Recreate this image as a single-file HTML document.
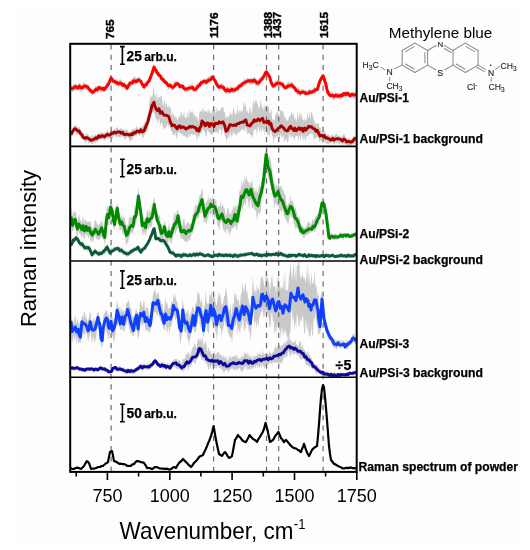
<!DOCTYPE html>
<html><head><meta charset="utf-8"><style>
html,body{margin:0;padding:0;background:#fff;}
svg{display:block;}
text{font-family:'Liberation Sans',Arial,sans-serif;}
</style></head><body>
<svg width="530" height="550" viewBox="0 0 530 550">
<rect x="0" y="0" width="530" height="550" fill="#fff"/><rect x="14" y="6" width="507.5" height="537.5" fill="#fdfdfd"/>
<g><path d="M70.5,84.1 71.3,84.5 72.1,86.5 72.9,84.6 73.7,83.8 74.5,84.9 75.3,83.5 76.1,83.6 76.9,84.3 77.7,86.1 78.5,83.8 79.3,82.9 80.1,83.0 80.9,83.9 81.7,85.4 82.5,83.9 83.3,82.6 84.1,82.1 84.9,83.8 85.7,84.2 86.5,83.2 87.3,84.9 88.1,84.8 88.9,84.5 89.7,87.1 90.5,88.2 91.3,88.5 92.1,88.7 92.9,90.2 93.7,89.2 94.5,88.8 95.3,86.5 96.1,85.2 96.9,87.0 97.7,86.8 98.5,85.0 99.3,85.4 100.1,85.6 100.9,86.0 101.7,86.2 102.5,86.6 103.3,85.1 104.1,86.4 104.9,86.3 105.7,85.8 106.5,82.9 107.3,83.5 108.1,82.4 108.9,81.0 109.7,79.1 110.5,75.0 111.3,76.1 112.1,77.2 112.9,76.9 113.7,77.8 114.5,79.2 115.3,79.4 116.1,78.5 116.9,79.8 117.7,79.6 118.5,81.8 119.3,79.6 120.1,79.3 120.9,79.5 121.7,80.2 122.5,82.5 123.3,83.0 124.1,81.9 124.9,81.9 125.7,84.3 126.5,85.2 127.3,84.7 128.1,82.5 128.9,80.8 129.7,81.6 130.5,80.9 131.3,79.1 132.1,79.5 132.9,78.5 133.7,76.3 134.5,76.7 135.3,77.3 136.1,77.4 136.9,78.7 137.7,77.0 138.5,77.9 139.3,76.6 140.1,77.2 140.9,78.0 141.7,80.4 142.5,82.0 143.3,83.1 144.1,84.7 144.9,81.1 145.7,81.8 146.5,82.0 147.3,80.1 148.1,78.2 148.9,78.5 149.7,75.5 150.5,73.1 151.3,72.6 152.1,70.9 152.9,66.8 153.7,63.5 154.5,66.2 155.3,66.0 156.1,66.5 156.9,68.4 157.7,71.2 158.5,72.4 159.3,70.8 160.1,73.8 160.9,74.9 161.7,75.6 162.5,76.6 163.3,76.0 164.1,78.9 164.9,77.9 165.7,80.2 166.5,79.4 167.3,82.3 168.1,82.5 168.9,83.8 169.7,83.0 170.5,83.1 171.3,82.8 172.1,84.4 172.9,85.4 173.7,82.3 174.5,81.9 175.3,80.7 176.1,81.7 176.9,81.1 177.7,81.6 178.5,82.2 179.3,83.5 180.1,83.7 180.9,84.0 181.7,84.0 182.5,82.2 183.3,84.3 184.1,86.5 184.9,85.5 185.7,86.7 186.5,86.0 187.3,86.4 188.1,85.4 188.9,84.8 189.7,85.0 190.5,85.3 191.3,83.9 192.1,83.3 192.9,85.5 193.7,86.9 194.5,87.4 195.3,84.7 196.1,84.5 196.9,85.7 197.7,82.3 198.5,83.6 199.3,82.5 200.1,81.5 200.9,78.6 201.7,80.6 202.5,79.9 203.3,78.5 204.1,79.3 204.9,79.0 205.7,79.1 206.5,78.0 207.3,77.6 208.1,76.6 208.9,76.5 209.7,76.3 210.5,75.5 211.3,75.3 212.1,73.9 212.9,74.7 213.7,76.7 214.5,76.2 215.3,79.2 216.1,78.9 216.9,81.3 217.7,83.4 218.5,82.4 219.3,84.9 220.1,83.5 220.9,84.4 221.7,82.6 222.5,84.1 223.3,83.3 224.1,86.1 224.9,86.1 225.7,87.1 226.5,87.4 227.3,85.5 228.1,87.2 228.9,87.8 229.7,87.5 230.5,86.7 231.3,87.3 232.1,86.0 232.9,87.8 233.7,87.2 234.5,86.5 235.3,87.6 236.1,85.4 236.9,86.9 237.7,83.9 238.5,84.3 239.3,83.6 240.1,82.2 240.9,82.9 241.7,80.9 242.5,82.0 243.3,80.3 244.1,79.8 244.9,78.0 245.7,80.1 246.5,78.8 247.3,77.8 248.1,77.8 248.9,78.8 249.7,78.0 250.5,78.8 251.3,78.4 252.1,76.9 252.9,79.2 253.7,77.6 254.5,76.7 255.3,77.5 256.1,78.9 256.9,79.2 257.7,80.4 258.5,79.4 259.3,78.0 260.1,77.6 260.9,76.7 261.7,76.7 262.5,75.0 263.3,74.4 264.1,72.3 264.9,71.4 265.7,69.7 266.5,68.3 267.3,70.3 268.1,72.1 268.9,72.2 269.7,74.6 270.5,76.0 271.3,78.6 272.1,81.4 272.9,82.3 273.7,84.0 274.5,82.7 275.3,80.5 276.1,80.8 276.9,80.3 277.7,79.6 278.5,79.6 279.3,80.1 280.1,80.8 280.9,81.6 281.7,81.6 282.5,82.1 283.3,83.0 284.1,82.4 284.9,85.2 285.7,84.7 286.5,84.6 287.3,83.3 288.1,81.4 288.9,81.8 289.7,83.1 290.5,83.0 291.3,81.0 292.1,82.3 292.9,82.9 293.7,85.3 294.5,83.8 295.3,86.5 296.1,87.4 296.9,88.6 297.7,88.5 298.5,88.1 299.3,88.8 300.1,90.2 300.9,88.9 301.7,89.5 302.5,89.5 303.3,88.9 304.1,90.2 304.9,90.4 305.7,89.8 306.5,89.7 307.3,91.3 308.1,89.4 308.9,88.8 309.7,89.3 310.5,90.0 311.3,88.8 312.1,89.8 312.9,88.3 313.7,88.5 314.5,87.2 315.3,87.7 316.1,86.7 316.9,86.6 317.7,85.1 318.5,83.3 319.3,78.5 320.1,78.2 320.9,76.6 321.7,75.5 322.5,74.6 323.3,73.9 324.1,74.8 324.9,78.1 325.7,81.3 326.5,85.1 327.3,88.1 328.1,89.2 328.9,91.1 329.7,90.8 330.5,92.1 331.3,92.3 332.1,91.6 332.9,91.8 333.7,93.7 334.5,93.8 335.3,92.8 336.1,92.2 336.9,93.8 337.7,93.1 338.5,92.5 339.3,93.8 340.1,93.5 340.9,93.0 341.7,93.4 342.5,90.9 343.3,92.3 344.1,91.5 344.9,92.0 345.7,90.8 346.5,92.2 347.3,91.1 348.1,91.4 348.9,92.2 349.7,91.7 350.5,93.3 351.3,91.7 352.1,91.7 352.9,92.0 353.7,91.2 354.5,93.0 355.3,90.4 356.1,89.7 356.1,96.3 355.3,97.2 354.5,99.3 353.7,99.2 352.9,97.6 352.1,97.9 351.3,97.1 350.5,98.3 349.7,97.4 348.9,97.4 348.1,95.9 347.3,96.5 346.5,98.2 345.7,96.0 344.9,98.6 344.1,97.7 343.3,96.2 342.5,97.5 341.7,98.5 340.9,98.9 340.1,99.5 339.3,99.3 338.5,97.9 337.7,97.8 336.9,100.1 336.1,97.1 335.3,98.5 334.5,99.5 333.7,100.1 332.9,99.9 332.1,98.5 331.3,97.9 330.5,97.5 329.7,98.4 328.9,97.1 328.1,96.4 327.3,94.4 326.5,89.2 325.7,86.0 324.9,84.1 324.1,82.8 323.3,78.7 322.5,78.6 321.7,81.1 320.9,81.1 320.1,82.5 319.3,85.2 318.5,87.4 317.7,90.9 316.9,91.6 316.1,92.9 315.3,94.2 314.5,95.0 313.7,93.4 312.9,93.5 312.1,95.6 311.3,94.5 310.5,94.7 309.7,96.3 308.9,94.7 308.1,95.1 307.3,95.8 306.5,95.6 305.7,95.3 304.9,95.9 304.1,94.4 303.3,93.9 302.5,94.5 301.7,94.8 300.9,96.2 300.1,96.2 299.3,95.7 298.5,94.0 297.7,95.6 296.9,95.3 296.1,93.6 295.3,91.3 294.5,92.3 293.7,89.5 292.9,88.7 292.1,87.4 291.3,89.6 290.5,87.3 289.7,89.3 288.9,88.0 288.1,89.0 287.3,89.6 286.5,89.7 285.7,89.8 284.9,90.8 284.1,89.6 283.3,87.7 282.5,87.9 281.7,86.4 280.9,87.5 280.1,87.1 279.3,85.3 278.5,85.2 277.7,86.3 276.9,85.8 276.1,86.6 275.3,88.3 274.5,87.7 273.7,88.3 272.9,88.2 272.1,86.4 271.3,86.3 270.5,83.4 269.7,80.3 268.9,79.8 268.1,76.6 267.3,75.4 266.5,74.7 265.7,75.1 264.9,76.7 264.1,78.8 263.3,80.8 262.5,80.7 261.7,82.0 260.9,84.3 260.1,83.6 259.3,86.2 258.5,87.0 257.7,86.0 256.9,85.4 256.1,86.5 255.3,85.2 254.5,84.2 253.7,83.1 252.9,85.3 252.1,83.1 251.3,85.1 250.5,84.5 249.7,84.8 248.9,83.9 248.1,83.7 247.3,84.2 246.5,83.6 245.7,85.3 244.9,86.6 244.1,84.8 243.3,87.7 242.5,86.5 241.7,86.5 240.9,87.9 240.1,90.0 239.3,88.4 238.5,90.6 237.7,92.7 236.9,90.9 236.1,91.8 235.3,93.2 234.5,92.3 233.7,94.6 232.9,93.2 232.1,92.2 231.3,91.8 230.5,92.9 229.7,94.7 228.9,93.0 228.1,94.2 227.3,94.1 226.5,93.4 225.7,94.4 224.9,92.6 224.1,90.8 223.3,90.9 222.5,89.7 221.7,89.0 220.9,88.7 220.1,89.6 219.3,89.6 218.5,89.6 217.7,88.0 216.9,86.8 216.1,85.1 215.3,83.7 214.5,82.0 213.7,80.9 212.9,80.0 212.1,81.0 211.3,81.6 210.5,81.6 209.7,84.0 208.9,82.2 208.1,84.4 207.3,83.8 206.5,86.0 205.7,83.9 204.9,84.9 204.1,85.7 203.3,84.2 202.5,84.4 201.7,85.3 200.9,86.6 200.1,87.4 199.3,88.3 198.5,87.9 197.7,88.7 196.9,92.3 196.1,91.7 195.3,91.4 194.5,91.9 193.7,91.0 192.9,91.9 192.1,91.4 191.3,89.9 190.5,90.2 189.7,90.1 188.9,92.4 188.1,92.3 187.3,90.9 186.5,92.1 185.7,92.5 184.9,92.0 184.1,91.3 183.3,89.6 182.5,88.9 181.7,89.8 180.9,89.1 180.1,88.7 179.3,89.4 178.5,87.5 177.7,86.0 176.9,86.6 176.1,87.2 175.3,87.2 174.5,89.1 173.7,90.6 172.9,90.5 172.1,90.9 171.3,89.5 170.5,88.0 169.7,88.8 168.9,88.9 168.1,89.7 167.3,87.4 166.5,85.2 165.7,84.5 164.9,84.8 164.1,83.1 163.3,82.1 162.5,83.8 161.7,81.5 160.9,79.9 160.1,79.8 159.3,77.7 158.5,76.4 157.7,76.9 156.9,75.2 156.1,73.4 155.3,71.5 154.5,72.4 153.7,72.1 152.9,73.7 152.1,74.9 151.3,79.1 150.5,80.2 149.7,83.6 148.9,83.1 148.1,83.8 147.3,86.1 146.5,87.7 145.7,87.2 144.9,89.3 144.1,90.3 143.3,88.1 142.5,87.5 141.7,85.2 140.9,83.8 140.1,83.2 139.3,82.5 138.5,82.0 137.7,82.8 136.9,83.7 136.1,83.9 135.3,85.4 134.5,83.9 133.7,83.2 132.9,85.7 132.1,85.1 131.3,86.5 130.5,87.5 129.7,85.6 128.9,87.6 128.1,89.7 127.3,91.3 126.5,90.2 125.7,90.2 124.9,89.0 124.1,88.5 123.3,87.4 122.5,89.1 121.7,86.4 120.9,86.7 120.1,85.5 119.3,86.5 118.5,87.5 117.7,85.5 116.9,84.4 116.1,86.7 115.3,85.2 114.5,83.4 113.7,84.1 112.9,82.9 112.1,83.5 111.3,80.5 110.5,82.7 109.7,83.4 108.9,87.4 108.1,86.8 107.3,87.8 106.5,90.1 105.7,91.6 104.9,90.8 104.1,91.9 103.3,92.6 102.5,90.5 101.7,91.7 100.9,92.5 100.1,91.3 99.3,91.9 98.5,90.4 97.7,93.7 96.9,92.4 96.1,91.6 95.3,92.1 94.5,93.0 93.7,93.8 92.9,94.8 92.1,95.8 91.3,95.3 90.5,93.2 89.7,93.2 88.9,92.4 88.1,89.9 87.3,90.1 86.5,89.1 85.7,89.4 84.9,90.3 84.1,89.4 83.3,90.1 82.5,90.9 81.7,91.1 80.9,92.2 80.1,91.2 79.3,90.2 78.5,89.1 77.7,90.5 76.9,89.6 76.1,91.1 75.3,91.0 74.5,89.3 73.7,91.7 72.9,91.6 72.1,92.0 71.3,90.3 70.5,91.6Z" fill="#c9c9c9" stroke="none"/><path d="M70.5,129.8 71.3,130.0 72.1,130.1 72.9,127.9 73.7,126.9 74.5,125.5 75.3,125.2 76.1,124.4 76.9,127.3 77.7,127.9 78.5,127.3 79.3,126.5 80.1,129.1 80.9,130.6 81.7,130.1 82.5,132.5 83.3,132.3 84.1,135.2 84.9,135.9 85.7,133.3 86.5,134.8 87.3,133.3 88.1,134.7 88.9,135.6 89.7,137.2 90.5,135.6 91.3,137.9 92.1,134.9 92.9,135.1 93.7,136.6 94.5,136.5 95.3,133.6 96.1,134.6 96.9,135.8 97.7,134.5 98.5,133.7 99.3,133.2 100.1,133.2 100.9,131.8 101.7,131.6 102.5,133.4 103.3,132.8 104.1,133.4 104.9,131.3 105.7,133.4 106.5,131.5 107.3,129.4 108.1,131.7 108.9,132.4 109.7,131.6 110.5,131.7 111.3,128.5 112.1,131.0 112.9,130.7 113.7,130.3 114.5,128.3 115.3,130.1 116.1,127.9 116.9,127.4 117.7,127.1 118.5,129.3 119.3,129.7 120.1,129.2 120.9,127.9 121.7,128.6 122.5,130.1 123.3,129.4 124.1,129.7 124.9,129.4 125.7,130.3 126.5,129.6 127.3,129.7 128.1,131.5 128.9,132.4 129.7,131.0 130.5,132.2 131.3,131.1 132.1,129.3 132.9,130.3 133.7,129.3 134.5,127.8 135.3,130.2 136.1,126.7 136.9,126.4 137.7,128.2 138.5,128.6 139.3,129.7 140.1,126.0 140.9,127.1 141.7,128.3 142.5,125.0 143.3,125.7 144.1,124.2 144.9,121.1 145.7,122.4 146.5,119.8 147.3,114.8 148.1,114.9 148.9,107.2 149.7,100.5 150.5,98.1 151.3,95.3 152.1,97.2 152.9,94.3 153.7,84.5 154.5,95.4 155.3,93.7 156.1,100.2 156.9,90.0 157.7,101.2 158.5,97.8 159.3,96.7 160.1,97.3 160.9,95.0 161.7,97.3 162.5,102.8 163.3,106.8 164.1,101.6 164.9,98.8 165.7,108.1 166.5,101.7 167.3,107.9 168.1,106.0 168.9,106.5 169.7,108.4 170.5,106.5 171.3,112.1 172.1,116.6 172.9,112.5 173.7,115.1 174.5,115.8 175.3,117.2 176.1,117.1 176.9,120.0 177.7,119.6 178.5,118.6 179.3,115.8 180.1,117.1 180.9,112.7 181.7,112.3 182.5,117.5 183.3,114.6 184.1,111.3 184.9,118.2 185.7,116.9 186.5,117.9 187.3,115.0 188.1,110.5 188.9,118.9 189.7,108.7 190.5,113.1 191.3,111.6 192.1,113.2 192.9,109.9 193.7,116.9 194.5,112.7 195.3,118.0 196.1,116.0 196.9,115.9 197.7,120.3 198.5,121.5 199.3,113.4 200.1,110.8 200.9,111.5 201.7,111.9 202.5,106.8 203.3,113.6 204.1,108.8 204.9,111.6 205.7,111.3 206.5,111.4 207.3,113.3 208.1,107.6 208.9,113.0 209.7,109.9 210.5,113.2 211.3,114.8 212.1,110.6 212.9,110.6 213.7,107.4 214.5,106.7 215.3,114.7 216.1,106.8 216.9,113.2 217.7,108.1 218.5,111.4 219.3,110.9 220.1,109.6 220.9,109.5 221.7,107.3 222.5,107.5 223.3,107.1 224.1,112.5 224.9,110.8 225.7,118.7 226.5,116.4 227.3,117.6 228.1,114.9 228.9,118.3 229.7,112.1 230.5,114.7 231.3,113.2 232.1,116.3 232.9,110.2 233.7,106.4 234.5,113.2 235.3,115.8 236.1,110.4 236.9,115.0 237.7,104.8 238.5,114.3 239.3,111.5 240.1,109.3 240.9,113.0 241.7,111.1 242.5,111.5 243.3,105.7 244.1,100.4 244.9,108.5 245.7,102.2 246.5,112.6 247.3,110.2 248.1,112.4 248.9,114.3 249.7,107.4 250.5,107.9 251.3,114.1 252.1,111.8 252.9,103.9 253.7,99.4 254.5,104.6 255.3,101.3 256.1,99.4 256.9,103.2 257.7,103.4 258.5,108.7 259.3,107.8 260.1,104.5 260.9,98.5 261.7,107.2 262.5,105.8 263.3,111.1 264.1,105.7 264.9,109.1 265.7,103.9 266.5,111.7 267.3,106.3 268.1,105.2 268.9,108.6 269.7,114.5 270.5,112.0 271.3,108.8 272.1,119.1 272.9,120.9 273.7,118.5 274.5,121.5 275.3,114.8 276.1,114.1 276.9,111.4 277.7,112.0 278.5,114.0 279.3,118.6 280.1,110.3 280.9,110.6 281.7,110.8 282.5,112.1 283.3,111.0 284.1,118.5 284.9,115.6 285.7,118.1 286.5,120.4 287.3,120.5 288.1,121.3 288.9,116.3 289.7,117.3 290.5,115.4 291.3,110.8 292.1,114.4 292.9,115.3 293.7,111.9 294.5,119.9 295.3,117.1 296.1,122.3 296.9,119.3 297.7,111.5 298.5,120.2 299.3,113.3 300.1,113.0 300.9,117.5 301.7,113.2 302.5,119.0 303.3,121.3 304.1,118.0 304.9,120.2 305.7,120.4 306.5,120.2 307.3,111.5 308.1,117.9 308.9,118.0 309.7,111.1 310.5,119.4 311.3,111.1 312.1,113.1 312.9,116.5 313.7,119.2 314.5,121.5 315.3,123.2 316.1,124.8 316.9,123.1 317.7,124.2 318.5,122.6 319.3,128.0 320.1,127.0 320.9,129.2 321.7,132.1 322.5,131.5 323.3,133.0 324.1,132.7 324.9,130.6 325.7,134.6 326.5,134.9 327.3,135.1 328.1,133.7 328.9,135.0 329.7,136.7 330.5,134.9 331.3,136.8 332.1,133.9 332.9,134.9 333.7,135.7 334.5,136.0 335.3,134.5 336.1,133.0 336.9,133.9 337.7,136.3 338.5,135.1 339.3,136.1 340.1,136.5 340.9,136.8 341.7,137.4 342.5,135.3 343.3,135.1 344.1,134.2 344.9,135.4 345.7,137.5 346.5,138.6 347.3,138.4 348.1,138.6 348.9,138.4 349.7,137.3 350.5,139.7 351.3,139.3 352.1,138.4 352.9,136.8 353.7,135.9 354.5,134.9 355.3,136.3 356.1,136.5 356.1,143.9 355.3,140.9 354.5,144.1 353.7,145.0 352.9,143.2 352.1,145.3 351.3,145.9 350.5,145.6 349.7,144.8 348.9,145.7 348.1,146.0 347.3,144.9 346.5,146.0 345.7,144.0 344.9,144.4 344.1,144.0 343.3,142.9 342.5,145.8 341.7,143.9 340.9,142.8 340.1,143.8 339.3,144.3 338.5,144.0 337.7,142.0 336.9,141.9 336.1,144.6 335.3,141.6 334.5,144.7 333.7,144.5 332.9,142.4 332.1,141.6 331.3,143.0 330.5,143.8 329.7,142.6 328.9,145.0 328.1,143.2 327.3,144.1 326.5,143.4 325.7,143.5 324.9,141.8 324.1,138.3 323.3,141.5 322.5,139.3 321.7,141.7 320.9,140.5 320.1,140.3 319.3,142.9 318.5,138.0 317.7,136.3 316.9,137.0 316.1,139.5 315.3,136.5 314.5,139.7 313.7,139.6 312.9,133.9 312.1,133.7 311.3,132.9 310.5,133.9 309.7,133.3 308.9,135.7 308.1,135.5 307.3,136.9 306.5,135.1 305.7,140.5 304.9,140.4 304.1,135.0 303.3,142.0 302.5,136.5 301.7,133.8 300.9,141.8 300.1,137.3 299.3,134.6 298.5,141.2 297.7,136.3 296.9,135.5 296.1,136.8 295.3,136.2 294.5,141.1 293.7,137.1 292.9,138.3 292.1,135.0 291.3,137.1 290.5,138.2 289.7,133.6 288.9,135.5 288.1,142.5 287.3,142.7 286.5,138.0 285.7,139.8 284.9,142.2 284.1,140.0 283.3,134.6 282.5,137.8 281.7,137.6 280.9,133.2 280.1,136.8 279.3,139.8 278.5,134.0 277.7,137.3 276.9,135.5 276.1,137.1 275.3,138.4 274.5,136.8 273.7,143.6 272.9,135.5 272.1,137.0 271.3,131.0 270.5,130.8 269.7,136.5 268.9,134.5 268.1,134.7 267.3,135.2 266.5,130.8 265.7,128.5 264.9,135.9 264.1,129.1 263.3,131.2 262.5,127.6 261.7,133.7 260.9,127.3 260.1,131.2 259.3,131.8 258.5,127.0 257.7,126.2 256.9,135.4 256.1,128.6 255.3,129.8 254.5,129.3 253.7,129.9 252.9,135.7 252.1,137.8 251.3,135.2 250.5,134.7 249.7,134.2 248.9,132.9 248.1,133.1 247.3,134.6 246.5,129.5 245.7,126.5 244.9,132.5 244.1,128.6 243.3,129.5 242.5,130.0 241.7,129.1 240.9,130.8 240.1,131.3 239.3,132.2 238.5,132.8 237.7,132.6 236.9,136.2 236.1,134.2 235.3,134.1 234.5,134.6 233.7,131.5 232.9,132.6 232.1,137.5 231.3,136.2 230.5,131.5 229.7,137.9 228.9,133.5 228.1,139.6 227.3,136.9 226.5,143.0 225.7,136.4 224.9,136.3 224.1,132.3 223.3,128.4 222.5,129.1 221.7,136.4 220.9,130.0 220.1,129.5 219.3,127.6 218.5,134.8 217.7,131.9 216.9,131.2 216.1,133.8 215.3,132.1 214.5,131.6 213.7,131.8 212.9,135.1 212.1,134.8 211.3,134.7 210.5,134.4 209.7,132.2 208.9,132.8 208.1,131.1 207.3,129.4 206.5,136.0 205.7,137.6 204.9,130.9 204.1,130.8 203.3,131.0 202.5,128.3 201.7,135.2 200.9,131.7 200.1,133.7 199.3,137.6 198.5,135.4 197.7,137.4 196.9,141.1 196.1,135.5 195.3,134.2 194.5,133.8 193.7,135.2 192.9,134.8 192.1,134.2 191.3,133.5 190.5,135.3 189.7,138.2 188.9,132.6 188.1,137.5 187.3,137.9 186.5,138.1 185.7,134.9 184.9,137.2 184.1,135.3 183.3,135.9 182.5,133.6 181.7,135.3 180.9,133.1 180.1,133.3 179.3,132.0 178.5,132.0 177.7,133.1 176.9,139.2 176.1,136.5 175.3,132.0 174.5,135.7 173.7,135.2 172.9,134.4 172.1,131.2 171.3,131.9 170.5,128.4 169.7,126.9 168.9,124.3 168.1,127.3 167.3,122.6 166.5,127.3 165.7,126.8 164.9,128.7 164.1,129.0 163.3,127.5 162.5,125.6 161.7,122.2 160.9,123.6 160.1,126.5 159.3,118.0 158.5,120.6 157.7,123.4 156.9,119.7 156.1,119.1 155.3,117.4 154.5,113.4 153.7,112.6 152.9,113.1 152.1,111.8 151.3,116.5 150.5,119.5 149.7,120.7 148.9,123.0 148.1,128.0 147.3,130.9 146.5,132.5 145.7,130.6 144.9,133.8 144.1,136.1 143.3,137.8 142.5,138.2 141.7,134.5 140.9,132.8 140.1,136.1 139.3,135.6 138.5,134.9 137.7,133.9 136.9,134.6 136.1,137.5 135.3,135.6 134.5,136.4 133.7,136.0 132.9,138.7 132.1,139.5 131.3,140.3 130.5,140.6 129.7,141.2 128.9,138.7 128.1,138.0 127.3,137.2 126.5,137.1 125.7,139.8 124.9,139.6 124.1,138.0 123.3,137.3 122.5,135.5 121.7,136.7 120.9,138.3 120.1,136.1 119.3,137.4 118.5,137.1 117.7,137.4 116.9,136.6 116.1,135.9 115.3,138.3 114.5,134.9 113.7,135.8 112.9,138.4 112.1,138.6 111.3,136.4 110.5,138.4 109.7,138.1 108.9,138.6 108.1,138.6 107.3,139.2 106.5,137.5 105.7,138.2 104.9,141.5 104.1,140.0 103.3,139.2 102.5,139.2 101.7,138.8 100.9,139.4 100.1,139.5 99.3,139.1 98.5,138.9 97.7,141.6 96.9,142.6 96.1,141.4 95.3,143.8 94.5,141.5 93.7,142.8 92.9,144.1 92.1,144.0 91.3,143.4 90.5,142.4 89.7,143.6 88.9,143.7 88.1,141.5 87.3,140.2 86.5,143.0 85.7,141.7 84.9,143.1 84.1,140.4 83.3,139.7 82.5,138.4 81.7,137.6 80.9,138.7 80.1,137.0 79.3,134.3 78.5,134.0 77.7,134.7 76.9,135.2 76.1,133.9 75.3,131.7 74.5,131.4 73.7,133.9 72.9,136.3 72.1,136.6 71.3,136.4 70.5,137.3Z" fill="#c9c9c9" stroke="none"/><path d="M70.5,208.6 71.3,207.3 72.1,217.2 72.9,213.4 73.7,210.1 74.5,213.4 75.3,210.6 76.1,213.6 76.9,218.6 77.7,221.6 78.5,216.6 79.3,214.1 80.1,220.6 80.9,220.1 81.7,224.3 82.5,217.3 83.3,217.1 84.1,224.5 84.9,220.3 85.7,218.4 86.5,222.1 87.3,221.9 88.1,220.7 88.9,221.9 89.7,222.0 90.5,220.7 91.3,225.3 92.1,227.4 92.9,228.1 93.7,227.5 94.5,220.9 95.3,220.0 96.1,221.2 96.9,223.5 97.7,224.8 98.5,226.5 99.3,223.2 100.1,224.5 100.9,221.9 101.7,220.6 102.5,222.1 103.3,227.9 104.1,230.7 104.9,231.1 105.7,221.9 106.5,209.3 107.3,205.8 108.1,206.5 108.9,210.5 109.7,207.1 110.5,199.8 111.3,198.3 112.1,203.3 112.9,207.8 113.7,214.7 114.5,218.7 115.3,211.4 116.1,207.2 116.9,203.5 117.7,205.5 118.5,207.5 119.3,214.0 120.1,215.3 120.9,218.0 121.7,213.0 122.5,217.7 123.3,218.0 124.1,215.0 124.9,220.0 125.7,223.2 126.5,228.9 127.3,224.0 128.1,226.3 128.9,218.6 129.7,216.8 130.5,217.8 131.3,215.3 132.1,218.1 132.9,217.1 133.7,216.5 134.5,205.1 135.3,207.1 136.1,209.7 136.9,203.0 137.7,194.0 138.5,187.2 139.3,196.9 140.1,196.6 140.9,207.2 141.7,209.2 142.5,215.7 143.3,216.5 144.1,217.4 144.9,220.9 145.7,221.3 146.5,212.9 147.3,209.9 148.1,210.7 148.9,214.7 149.7,208.7 150.5,212.4 151.3,206.9 152.1,206.2 152.9,207.7 153.7,197.9 154.5,197.7 155.3,202.1 156.1,204.3 156.9,210.3 157.7,213.7 158.5,216.4 159.3,214.3 160.1,217.2 160.9,226.2 161.7,223.4 162.5,226.5 163.3,225.3 164.1,222.5 164.9,220.8 165.7,226.8 166.5,229.7 167.3,230.9 168.1,228.8 168.9,222.1 169.7,229.2 170.5,229.2 171.3,225.7 172.1,226.4 172.9,222.6 173.7,216.1 174.5,212.3 175.3,213.4 176.1,216.8 176.9,210.5 177.7,209.8 178.5,213.1 179.3,215.3 180.1,215.6 180.9,219.9 181.7,224.5 182.5,226.3 183.3,219.6 184.1,217.9 184.9,223.6 185.7,226.8 186.5,224.2 187.3,221.6 188.1,222.8 188.9,223.2 189.7,224.4 190.5,223.7 191.3,224.1 192.1,220.9 192.9,211.4 193.7,215.4 194.5,207.4 195.3,204.5 196.1,206.8 196.9,204.3 197.7,205.8 198.5,200.1 199.3,196.8 200.1,194.3 200.9,194.5 201.7,187.8 202.5,190.7 203.3,197.8 204.1,201.3 204.9,208.9 205.7,202.1 206.5,203.0 207.3,198.5 208.1,201.6 208.9,195.1 209.7,201.2 210.5,196.6 211.3,198.8 212.1,199.9 212.9,195.1 213.7,199.9 214.5,198.8 215.3,201.5 216.1,198.0 216.9,207.1 217.7,208.9 218.5,205.5 219.3,207.4 220.1,205.5 220.9,200.6 221.7,208.0 222.5,204.4 223.3,206.3 224.1,207.7 224.9,209.4 225.7,215.4 226.5,215.1 227.3,207.5 228.1,208.0 228.9,211.8 229.7,214.4 230.5,211.8 231.3,215.3 232.1,207.5 232.9,211.7 233.7,204.7 234.5,208.6 235.3,204.1 236.1,209.7 236.9,206.0 237.7,205.3 238.5,204.2 239.3,191.3 240.1,190.6 240.9,188.6 241.7,180.1 242.5,186.7 243.3,179.4 244.1,184.7 244.9,174.3 245.7,182.3 246.5,175.3 247.3,180.9 248.1,181.7 248.9,181.5 249.7,186.5 250.5,182.7 251.3,182.3 252.1,179.0 252.9,187.7 253.7,186.7 254.5,190.1 255.3,192.8 256.1,186.1 256.9,192.9 257.7,192.1 258.5,189.4 259.3,184.2 260.1,187.2 260.9,186.5 261.7,179.9 262.5,178.5 263.3,174.2 264.1,160.5 264.9,155.1 265.7,149.5 266.5,148.9 267.3,148.0 268.1,156.2 268.9,161.1 269.7,154.2 270.5,158.5 271.3,164.0 272.1,170.1 272.9,177.4 273.7,183.4 274.5,182.5 275.3,188.2 276.1,183.4 276.9,186.9 277.7,185.4 278.5,180.6 279.3,187.0 280.1,185.4 280.9,186.4 281.7,186.4 282.5,190.0 283.3,189.8 284.1,194.2 284.9,193.6 285.7,196.3 286.5,206.0 287.3,206.1 288.1,204.2 288.9,202.8 289.7,201.7 290.5,194.5 291.3,201.4 292.1,201.7 292.9,199.8 293.7,206.6 294.5,209.9 295.3,206.9 296.1,209.4 296.9,213.3 297.7,216.5 298.5,218.2 299.3,216.5 300.1,220.8 300.9,227.2 301.7,223.8 302.5,226.8 303.3,226.5 304.1,228.1 304.9,227.9 305.7,227.4 306.5,226.1 307.3,222.8 308.1,222.1 308.9,222.5 309.7,222.1 310.5,224.9 311.3,224.4 312.1,221.1 312.9,218.0 313.7,221.3 314.5,219.5 315.3,217.1 316.1,215.0 316.9,216.4 317.7,212.8 318.5,213.1 319.3,210.9 320.1,207.6 320.9,204.5 321.7,201.2 322.5,196.5 323.3,197.7 324.1,198.6 324.9,205.5 325.7,209.3 326.5,213.8 327.3,219.2 328.1,227.5 328.9,234.8 329.7,235.3 330.5,233.6 331.3,233.0 332.1,232.9 332.9,234.3 333.7,235.0 334.5,233.5 335.3,233.5 336.1,233.4 336.9,234.7 337.7,234.9 338.5,234.8 339.3,232.9 340.1,232.3 340.9,233.1 341.7,232.4 342.5,234.2 343.3,233.2 344.1,232.4 344.9,233.4 345.7,233.7 346.5,233.2 347.3,233.0 348.1,232.5 348.9,234.1 349.7,233.1 350.5,234.4 351.3,233.6 352.1,232.6 352.9,233.5 353.7,232.8 354.5,232.1 355.3,232.0 356.1,231.4 356.1,237.3 355.3,237.4 354.5,236.4 353.7,236.9 352.9,238.6 352.1,238.3 351.3,237.9 350.5,237.9 349.7,238.0 348.9,238.4 348.1,238.6 347.3,237.0 346.5,238.1 345.7,238.9 344.9,237.1 344.1,237.8 343.3,239.2 342.5,239.8 341.7,238.1 340.9,238.8 340.1,238.1 339.3,238.3 338.5,239.9 337.7,239.4 336.9,239.9 336.1,239.3 335.3,239.5 334.5,239.9 333.7,240.4 332.9,239.2 332.1,240.1 331.3,238.9 330.5,239.5 329.7,240.3 328.9,240.0 328.1,233.8 327.3,226.4 326.5,220.2 325.7,215.8 324.9,213.2 324.1,207.1 323.3,207.8 322.5,205.9 321.7,207.7 320.9,212.3 320.1,218.1 319.3,219.3 318.5,224.5 317.7,222.1 316.9,223.9 316.1,226.7 315.3,231.7 314.5,232.4 313.7,229.6 312.9,230.4 312.1,232.1 311.3,232.5 310.5,232.5 309.7,232.7 308.9,234.5 308.1,233.5 307.3,236.1 306.5,234.4 305.7,234.5 304.9,237.8 304.1,237.4 303.3,238.2 302.5,234.1 301.7,234.8 300.9,235.5 300.1,231.8 299.3,233.1 298.5,230.3 297.7,227.7 296.9,229.3 296.1,226.6 295.3,229.4 294.5,225.1 293.7,223.6 292.9,217.6 292.1,217.3 291.3,218.1 290.5,213.6 289.7,216.6 288.9,220.4 288.1,225.1 287.3,222.5 286.5,220.1 285.7,220.5 284.9,215.8 284.1,218.5 283.3,211.4 282.5,208.4 281.7,213.2 280.9,210.6 280.1,210.1 279.3,208.9 278.5,206.3 277.7,205.0 276.9,206.6 276.1,202.8 275.3,203.4 274.5,208.2 273.7,201.6 272.9,197.8 272.1,192.6 271.3,187.9 270.5,182.6 269.7,182.7 268.9,177.2 268.1,179.8 267.3,171.3 266.5,173.2 265.7,176.6 264.9,183.0 264.1,187.7 263.3,192.8 262.5,194.8 261.7,199.2 260.9,208.9 260.1,213.2 259.3,215.0 258.5,211.1 257.7,215.9 256.9,221.1 256.1,210.6 255.3,210.6 254.5,209.9 253.7,206.2 252.9,208.6 252.1,208.4 251.3,202.3 250.5,199.3 249.7,203.4 248.9,210.0 248.1,199.9 247.3,197.9 246.5,199.0 245.7,205.9 244.9,203.3 244.1,203.9 243.3,206.0 242.5,210.2 241.7,206.8 240.9,212.1 240.1,211.7 239.3,225.1 238.5,221.8 237.7,224.5 236.9,231.0 236.1,228.5 235.3,225.2 234.5,226.1 233.7,227.9 232.9,228.9 232.1,227.8 231.3,230.5 230.5,232.7 229.7,236.3 228.9,228.5 228.1,234.9 227.3,228.4 226.5,228.6 225.7,233.3 224.9,232.3 224.1,229.5 223.3,230.9 222.5,226.1 221.7,221.1 220.9,221.6 220.1,223.1 219.3,231.5 218.5,227.1 217.7,225.9 216.9,220.3 216.1,217.4 215.3,216.1 214.5,220.0 213.7,212.5 212.9,218.8 212.1,214.9 211.3,212.5 210.5,217.2 209.7,212.6 208.9,214.1 208.1,220.8 207.3,218.4 206.5,224.8 205.7,221.8 204.9,221.2 204.1,223.3 203.3,217.0 202.5,213.0 201.7,209.5 200.9,214.5 200.1,212.3 199.3,213.6 198.5,219.1 197.7,217.5 196.9,218.8 196.1,220.2 195.3,222.4 194.5,224.9 193.7,227.7 192.9,232.8 192.1,233.6 191.3,235.0 190.5,238.0 189.7,241.7 188.9,238.2 188.1,240.6 187.3,241.9 186.5,242.7 185.7,240.1 184.9,241.8 184.1,241.4 183.3,239.1 182.5,239.0 181.7,239.3 180.9,237.3 180.1,235.5 179.3,228.6 178.5,226.9 177.7,228.9 176.9,229.8 176.1,232.0 175.3,234.4 174.5,229.8 173.7,233.4 172.9,237.4 172.1,239.9 171.3,244.4 170.5,242.3 169.7,241.1 168.9,237.4 168.1,245.2 167.3,242.1 166.5,244.0 165.7,238.7 164.9,240.0 164.1,233.5 163.3,238.0 162.5,243.1 161.7,244.4 160.9,241.9 160.1,238.5 159.3,232.8 158.5,230.6 157.7,227.1 156.9,223.2 156.1,220.1 155.3,221.2 154.5,212.3 153.7,213.2 152.9,219.1 152.1,224.8 151.3,226.9 150.5,227.1 149.7,225.6 148.9,230.2 148.1,228.4 147.3,227.8 146.5,231.7 145.7,236.8 144.9,231.1 144.1,234.6 143.3,232.2 142.5,236.0 141.7,229.7 140.9,218.8 140.1,212.7 139.3,211.5 138.5,205.0 137.7,213.3 136.9,215.6 136.1,224.6 135.3,225.8 134.5,222.4 133.7,230.6 132.9,231.9 132.1,234.4 131.3,232.3 130.5,232.1 129.7,237.8 128.9,238.0 128.1,242.6 127.3,242.2 126.5,245.2 125.7,243.4 124.9,233.9 124.1,231.3 123.3,236.0 122.5,234.1 121.7,228.8 120.9,229.6 120.1,231.3 119.3,228.6 118.5,224.4 117.7,220.9 116.9,218.0 116.1,220.3 115.3,226.3 114.5,228.9 113.7,228.4 112.9,222.9 112.1,216.3 111.3,215.7 110.5,213.2 109.7,218.8 108.9,225.4 108.1,224.4 107.3,225.2 106.5,227.7 105.7,237.8 104.9,246.1 104.1,240.4 103.3,239.2 102.5,239.4 101.7,236.0 100.9,238.6 100.1,237.2 99.3,240.2 98.5,239.4 97.7,239.9 96.9,237.5 96.1,240.3 95.3,234.0 94.5,236.7 93.7,239.5 92.9,243.2 92.1,239.5 91.3,242.0 90.5,240.7 89.7,234.5 88.9,238.1 88.1,238.3 87.3,234.6 86.5,234.4 85.7,233.5 84.9,238.7 84.1,239.1 83.3,236.7 82.5,233.8 81.7,238.6 80.9,235.4 80.1,233.1 79.3,233.9 78.5,230.2 77.7,236.6 76.9,236.1 76.1,231.8 75.3,226.4 74.5,224.8 73.7,229.6 72.9,231.3 72.1,231.3 71.3,223.1 70.5,225.4Z" fill="#c9c9c9" stroke="none"/><path d="M70.5,243.5 71.3,241.7 72.1,239.3 72.9,237.8 73.7,237.8 74.5,238.1 75.3,236.1 76.1,235.9 76.9,236.4 77.7,237.3 78.5,237.3 79.3,239.6 80.1,240.4 80.9,242.2 81.7,241.8 82.5,241.1 83.3,244.0 84.1,243.1 84.9,245.5 85.7,245.6 86.5,245.2 87.3,245.2 88.1,245.2 88.9,245.6 89.7,246.3 90.5,249.0 91.3,251.2 92.1,252.4 92.9,252.2 93.7,250.5 94.5,249.3 95.3,248.2 96.1,250.6 96.9,250.6 97.7,250.2 98.5,251.8 99.3,250.7 100.1,250.2 100.9,251.7 101.7,251.3 102.5,249.4 103.3,249.2 104.1,248.1 104.9,246.4 105.7,246.4 106.5,245.4 107.3,244.3 108.1,246.9 108.9,249.1 109.7,250.5 110.5,249.8 111.3,247.7 112.1,248.4 112.9,248.9 113.7,246.4 114.5,247.3 115.3,247.0 116.1,246.2 116.9,246.7 117.7,246.8 118.5,246.0 119.3,247.1 120.1,246.8 120.9,248.5 121.7,247.1 122.5,248.2 123.3,250.2 124.1,250.3 124.9,250.2 125.7,251.3 126.5,252.0 127.3,250.7 128.1,252.2 128.9,251.1 129.7,250.6 130.5,248.8 131.3,249.1 132.1,248.8 132.9,247.0 133.7,248.0 134.5,246.8 135.3,247.4 136.1,246.1 136.9,245.6 137.7,244.5 138.5,246.1 139.3,248.4 140.1,248.6 140.9,248.8 141.7,248.8 142.5,248.0 143.3,247.3 144.1,245.1 144.9,246.4 145.7,244.9 146.5,243.5 147.3,240.7 148.1,240.5 148.9,238.3 149.7,236.7 150.5,235.1 151.3,232.5 152.1,231.4 152.9,228.8 153.7,227.4 154.5,228.7 155.3,232.8 156.1,236.9 156.9,236.7 157.7,235.3 158.5,236.7 159.3,237.7 160.1,237.8 160.9,238.3 161.7,239.0 162.5,238.5 163.3,237.9 164.1,239.4 164.9,238.8 165.7,240.7 166.5,242.7 167.3,242.9 168.1,246.2 168.9,247.6 169.7,248.1 170.5,250.1 171.3,251.0 172.1,250.5 172.9,250.3 173.7,251.3 174.5,253.1 175.3,253.9 176.1,254.0 176.9,253.8 177.7,253.6 178.5,252.8 179.3,253.3 180.1,253.9 180.9,253.0 181.7,254.1 182.5,251.9 183.3,252.3 184.1,252.6 184.9,252.9 185.7,252.2 186.5,253.6 187.3,253.9 188.1,252.7 188.9,253.8 189.7,253.0 190.5,252.4 191.3,253.8 192.1,253.4 192.9,251.8 193.7,252.6 194.5,252.8 195.3,252.2 196.1,252.9 196.9,252.1 197.7,251.5 198.5,252.8 199.3,250.9 200.1,251.0 200.9,251.2 201.7,252.7 202.5,253.0 203.3,252.5 204.1,252.8 204.9,254.1 205.7,254.0 206.5,253.8 207.3,253.5 208.1,252.8 208.9,253.1 209.7,253.4 210.5,254.4 211.3,254.5 212.1,255.3 212.9,254.7 213.7,254.4 214.5,252.5 215.3,253.4 216.1,253.6 216.9,252.9 217.7,252.6 218.5,252.3 219.3,252.0 220.1,253.4 220.9,253.5 221.7,253.4 222.5,252.6 223.3,253.0 224.1,253.5 224.9,252.4 225.7,252.7 226.5,252.6 227.3,253.8 228.1,253.8 228.9,253.4 229.7,252.6 230.5,253.1 231.3,252.8 232.1,253.1 232.9,253.5 233.7,253.9 234.5,252.4 235.3,253.7 236.1,253.1 236.9,254.6 237.7,253.1 238.5,253.1 239.3,254.1 240.1,252.6 240.9,252.5 241.7,253.8 242.5,252.9 243.3,253.0 244.1,252.5 244.9,251.9 245.7,252.2 246.5,252.9 247.3,252.1 248.1,251.9 248.9,252.5 249.7,252.5 250.5,251.9 251.3,251.8 252.1,252.1 252.9,251.8 253.7,251.7 254.5,253.0 255.3,252.5 256.1,251.9 256.9,251.8 257.7,252.5 258.5,254.2 259.3,252.4 260.1,253.4 260.9,254.2 261.7,253.7 262.5,253.2 263.3,252.8 264.1,253.5 264.9,252.0 265.7,252.8 266.5,252.8 267.3,253.2 268.1,252.8 268.9,253.0 269.7,252.4 270.5,253.1 271.3,253.0 272.1,252.9 272.9,253.0 273.7,252.6 274.5,253.0 275.3,251.8 276.1,252.4 276.9,250.9 277.7,252.2 278.5,253.2 279.3,252.0 280.1,252.0 280.9,251.6 281.7,251.9 282.5,252.4 283.3,253.4 284.1,252.3 284.9,254.1 285.7,254.3 286.5,254.0 287.3,254.7 288.1,254.5 288.9,253.6 289.7,254.0 290.5,253.3 291.3,252.8 292.1,253.6 292.9,253.8 293.7,253.2 294.5,253.9 295.3,253.9 296.1,253.9 296.9,254.5 297.7,252.9 298.5,252.3 299.3,252.8 300.1,253.7 300.9,253.2 301.7,253.7 302.5,253.1 303.3,253.9 304.1,253.5 304.9,252.5 305.7,253.9 306.5,255.1 307.3,254.9 308.1,253.9 308.9,252.3 309.7,254.2 310.5,254.0 311.3,252.6 312.1,253.9 312.9,253.6 313.7,254.4 314.5,253.7 315.3,254.9 316.1,254.0 316.9,253.8 317.7,254.3 318.5,255.0 319.3,254.6 320.1,254.8 320.9,254.0 321.7,253.4 322.5,254.0 323.3,254.6 324.1,255.2 324.9,254.7 325.7,252.7 326.5,254.1 327.3,253.3 328.1,254.1 328.9,253.6 329.7,253.7 330.5,254.7 331.3,253.5 332.1,252.8 332.9,253.6 333.7,254.0 334.5,254.8 335.3,255.2 336.1,254.3 336.9,254.1 337.7,254.8 338.5,254.8 339.3,254.4 340.1,253.9 340.9,253.5 341.7,252.8 342.5,253.7 343.3,253.5 344.1,254.1 344.9,253.5 345.7,253.4 346.5,255.3 347.3,253.9 348.1,253.7 348.9,253.4 349.7,254.7 350.5,253.7 351.3,254.4 352.1,254.1 352.9,254.0 353.7,253.5 354.5,252.7 355.3,253.2 356.1,253.2 356.1,256.6 355.3,256.3 354.5,256.5 353.7,257.2 352.9,257.4 352.1,257.2 351.3,257.5 350.5,257.0 349.7,257.1 348.9,257.6 348.1,256.9 347.3,257.2 346.5,259.0 345.7,257.4 344.9,258.2 344.1,257.1 343.3,257.2 342.5,257.8 341.7,257.2 340.9,257.4 340.1,257.4 339.3,257.3 338.5,257.4 337.7,257.5 336.9,257.6 336.1,257.8 335.3,259.1 334.5,258.1 333.7,257.1 332.9,257.6 332.1,257.1 331.3,256.9 330.5,258.4 329.7,258.6 328.9,257.8 328.1,258.0 327.3,257.1 326.5,257.0 325.7,257.4 324.9,257.2 324.1,259.3 323.3,257.4 322.5,257.5 321.7,257.9 320.9,257.9 320.1,257.7 319.3,258.0 318.5,258.2 317.7,257.2 316.9,257.3 316.1,258.1 315.3,257.7 314.5,257.0 313.7,257.6 312.9,257.7 312.1,257.1 311.3,257.4 310.5,257.6 309.7,257.3 308.9,256.3 308.1,258.4 307.3,257.7 306.5,258.4 305.7,258.6 304.9,257.0 304.1,256.5 303.3,257.8 302.5,257.0 301.7,256.5 300.9,256.7 300.1,256.4 299.3,256.2 298.5,256.1 297.7,257.6 296.9,257.0 296.1,257.7 295.3,258.5 294.5,256.8 293.7,257.4 292.9,256.6 292.1,257.7 291.3,257.7 290.5,257.3 289.7,257.2 288.9,258.2 288.1,258.8 287.3,258.5 286.5,257.2 285.7,257.4 284.9,257.7 284.1,257.7 283.3,257.3 282.5,256.9 281.7,257.3 280.9,255.6 280.1,255.7 279.3,256.5 278.5,257.5 277.7,257.3 276.9,255.1 276.1,255.4 275.3,256.5 274.5,257.4 273.7,255.9 272.9,256.1 272.1,257.0 271.3,257.4 270.5,257.1 269.7,256.7 268.9,255.7 268.1,257.1 267.3,256.7 266.5,257.7 265.7,257.2 264.9,257.9 264.1,257.0 263.3,256.7 262.5,256.8 261.7,258.4 260.9,258.3 260.1,257.3 259.3,256.7 258.5,257.2 257.7,257.5 256.9,255.8 256.1,256.6 255.3,256.8 254.5,256.5 253.7,256.3 252.9,255.4 252.1,256.2 251.3,255.6 250.5,255.0 249.7,255.3 248.9,255.6 248.1,255.9 247.3,255.6 246.5,255.9 245.7,256.8 244.9,257.8 244.1,257.7 243.3,256.2 242.5,256.6 241.7,256.6 240.9,257.6 240.1,257.6 239.3,257.9 238.5,258.9 237.7,258.5 236.9,259.0 236.1,257.4 235.3,257.4 234.5,257.9 233.7,258.8 232.9,258.5 232.1,257.2 231.3,257.3 230.5,257.5 229.7,258.2 228.9,256.5 228.1,257.0 227.3,258.5 226.5,257.8 225.7,256.6 224.9,258.0 224.1,257.5 223.3,257.6 222.5,257.1 221.7,257.9 220.9,257.0 220.1,257.1 219.3,256.1 218.5,256.4 217.7,258.3 216.9,257.0 216.1,257.2 215.3,257.0 214.5,257.2 213.7,258.7 212.9,258.1 212.1,258.5 211.3,258.2 210.5,257.7 209.7,257.6 208.9,256.6 208.1,256.5 207.3,256.5 206.5,258.6 205.7,257.0 204.9,257.4 204.1,257.9 203.3,257.7 202.5,256.0 201.7,256.2 200.9,255.6 200.1,256.0 199.3,255.9 198.5,257.3 197.7,257.7 196.9,255.7 196.1,257.6 195.3,256.7 194.5,257.8 193.7,255.9 192.9,256.7 192.1,256.9 191.3,258.7 190.5,256.7 189.7,258.2 188.9,257.0 188.1,257.4 187.3,257.3 186.5,257.8 185.7,256.2 184.9,258.2 184.1,256.7 183.3,257.7 182.5,257.7 181.7,258.0 180.9,259.2 180.1,258.7 179.3,258.5 178.5,257.3 177.7,256.8 176.9,258.3 176.1,257.4 175.3,257.4 174.5,257.0 173.7,255.6 172.9,254.5 172.1,256.3 171.3,254.3 170.5,254.1 169.7,253.6 168.9,250.9 168.1,250.0 167.3,248.4 166.5,246.6 165.7,246.5 164.9,244.7 164.1,242.8 163.3,242.2 162.5,242.2 161.7,243.6 160.9,243.1 160.1,241.9 159.3,241.0 158.5,241.5 157.7,240.2 156.9,241.0 156.1,241.0 155.3,238.3 154.5,232.1 153.7,231.8 152.9,233.5 152.1,237.0 151.3,236.9 150.5,238.7 149.7,242.4 148.9,244.3 148.1,244.8 147.3,245.9 146.5,246.8 145.7,248.5 144.9,250.6 144.1,250.1 143.3,252.3 142.5,252.5 141.7,252.8 140.9,254.9 140.1,253.2 139.3,251.7 138.5,251.0 137.7,249.4 136.9,251.9 136.1,252.4 135.3,250.8 134.5,251.3 133.7,252.9 132.9,253.7 132.1,254.4 131.3,253.4 130.5,254.3 129.7,255.8 128.9,255.7 128.1,256.5 127.3,256.7 126.5,256.5 125.7,256.1 124.9,255.2 124.1,254.8 123.3,255.4 122.5,253.2 121.7,252.6 120.9,253.2 120.1,253.9 119.3,253.2 118.5,252.4 117.7,250.0 116.9,251.9 116.1,251.6 115.3,251.3 114.5,252.1 113.7,251.7 112.9,252.5 112.1,252.9 111.3,254.4 110.5,254.1 109.7,254.2 108.9,254.1 108.1,251.9 107.3,250.3 106.5,249.4 105.7,252.9 104.9,253.7 104.1,254.5 103.3,253.4 102.5,255.4 101.7,255.9 100.9,255.2 100.1,256.5 99.3,255.7 98.5,257.3 97.7,255.8 96.9,255.3 96.1,253.9 95.3,253.0 94.5,254.1 93.7,255.3 92.9,256.0 92.1,258.1 91.3,256.2 90.5,253.3 89.7,250.9 88.9,249.5 88.1,250.4 87.3,251.3 86.5,250.8 85.7,250.0 84.9,250.3 84.1,250.6 83.3,249.5 82.5,247.9 81.7,247.1 80.9,247.3 80.1,247.0 79.3,244.6 78.5,244.5 77.7,241.7 76.9,241.3 76.1,240.9 75.3,241.6 74.5,242.3 73.7,243.7 72.9,244.2 72.1,246.1 71.3,246.4 70.5,247.6Z" fill="#c9c9c9" stroke="none"/><path d="M70.5,308.4 71.3,318.0 72.1,323.9 72.9,323.2 73.7,323.6 74.5,318.8 75.3,314.2 76.1,323.1 76.9,321.1 77.7,318.0 78.5,323.6 79.3,322.4 80.1,325.7 80.9,322.1 81.7,317.2 82.5,315.4 83.3,317.4 84.1,311.2 84.9,312.0 85.7,318.7 86.5,316.9 87.3,321.5 88.1,319.2 88.9,318.8 89.7,311.0 90.5,312.1 91.3,320.6 92.1,321.5 92.9,320.3 93.7,316.9 94.5,321.5 95.3,321.1 96.1,317.5 96.9,314.7 97.7,312.0 98.5,312.7 99.3,315.6 100.1,318.5 100.9,323.5 101.7,325.9 102.5,329.9 103.3,317.2 104.1,312.8 104.9,314.0 105.7,309.4 106.5,311.0 107.3,311.0 108.1,315.2 108.9,314.6 109.7,319.4 110.5,313.4 111.3,312.9 112.1,320.2 112.9,316.0 113.7,320.5 114.5,318.2 115.3,311.6 116.1,308.9 116.9,300.4 117.7,305.0 118.5,307.9 119.3,306.4 120.1,314.0 120.9,306.9 121.7,309.8 122.5,312.2 123.3,309.2 124.1,312.9 124.9,310.4 125.7,307.9 126.5,301.9 127.3,303.4 128.1,300.4 128.9,300.4 129.7,306.2 130.5,308.2 131.3,308.3 132.1,318.0 132.9,314.4 133.7,317.7 134.5,315.7 135.3,311.9 136.1,307.8 136.9,311.3 137.7,312.2 138.5,314.2 139.3,311.9 140.1,300.9 140.9,302.1 141.7,305.0 142.5,307.7 143.3,303.2 144.1,298.7 144.9,307.5 145.7,310.3 146.5,306.8 147.3,308.1 148.1,308.7 148.9,313.9 149.7,317.1 150.5,316.4 151.3,302.2 152.1,303.2 152.9,295.5 153.7,291.0 154.5,292.1 155.3,287.7 156.1,295.7 156.9,294.7 157.7,292.4 158.5,292.5 159.3,298.3 160.1,300.0 160.9,300.7 161.7,304.4 162.5,303.7 163.3,313.3 164.1,311.1 164.9,302.7 165.7,297.7 166.5,305.2 167.3,301.9 168.1,309.4 168.9,308.3 169.7,307.6 170.5,307.2 171.3,301.6 172.1,303.0 172.9,300.9 173.7,292.3 174.5,299.6 175.3,293.0 176.1,300.5 176.9,300.4 177.7,304.5 178.5,308.4 179.3,311.5 180.1,319.1 180.9,322.2 181.7,311.0 182.5,298.3 183.3,305.4 184.1,307.6 184.9,313.0 185.7,314.3 186.5,310.7 187.3,312.8 188.1,307.9 188.9,320.2 189.7,315.4 190.5,312.3 191.3,312.7 192.1,307.5 192.9,306.2 193.7,308.6 194.5,314.9 195.3,301.3 196.1,306.1 196.9,301.1 197.7,290.1 198.5,294.0 199.3,293.5 200.1,299.3 200.9,304.0 201.7,297.2 202.5,308.4 203.3,315.7 204.1,305.3 204.9,304.4 205.7,289.3 206.5,302.1 207.3,303.4 208.1,304.5 208.9,302.0 209.7,292.8 210.5,296.8 211.3,291.8 212.1,292.7 212.9,301.3 213.7,292.9 214.5,296.7 215.3,300.9 216.1,305.1 216.9,304.7 217.7,299.3 218.5,293.2 219.3,296.8 220.1,291.5 220.9,300.5 221.7,305.4 222.5,304.2 223.3,302.6 224.1,296.3 224.9,296.0 225.7,287.0 226.5,290.4 227.3,296.8 228.1,307.0 228.9,309.1 229.7,311.9 230.5,301.3 231.3,316.5 232.1,311.2 232.9,302.9 233.7,305.3 234.5,291.8 235.3,295.6 236.1,294.0 236.9,299.4 237.7,300.6 238.5,298.3 239.3,305.4 240.1,304.9 240.9,292.3 241.7,294.9 242.5,281.4 243.3,288.8 244.1,292.6 244.9,284.8 245.7,283.0 246.5,293.0 247.3,290.6 248.1,298.2 248.9,301.8 249.7,306.2 250.5,308.9 251.3,300.5 252.1,293.1 252.9,275.6 253.7,286.6 254.5,292.7 255.3,289.5 256.1,293.9 256.9,284.5 257.7,291.3 258.5,286.0 259.3,292.3 260.1,286.8 260.9,275.6 261.7,279.2 262.5,274.9 263.3,281.0 264.1,284.5 264.9,287.7 265.7,270.2 266.5,279.7 267.3,275.1 268.1,282.4 268.9,278.9 269.7,293.4 270.5,285.1 271.3,280.6 272.1,274.0 272.9,287.0 273.7,285.8 274.5,286.6 275.3,287.0 276.1,294.8 276.9,284.9 277.7,277.7 278.5,275.0 279.3,286.6 280.1,286.2 280.9,289.4 281.7,286.6 282.5,289.9 283.3,277.4 284.1,292.8 284.9,270.3 285.7,289.7 286.5,290.4 287.3,290.1 288.1,290.1 288.9,278.1 289.7,272.4 290.5,262.6 291.3,272.8 292.1,281.0 292.9,270.1 293.7,262.8 294.5,281.4 295.3,267.1 296.1,284.1 296.9,265.0 297.7,265.9 298.5,262.0 299.3,262.0 300.1,281.1 300.9,274.6 301.7,278.0 302.5,272.5 303.3,279.2 304.1,277.3 304.9,279.1 305.7,283.3 306.5,274.9 307.3,264.4 308.1,284.4 308.9,269.1 309.7,280.5 310.5,287.9 311.3,271.4 312.1,282.7 312.9,283.9 313.7,283.2 314.5,270.1 315.3,285.5 316.1,285.6 316.9,290.1 317.7,296.7 318.5,292.8 319.3,306.5 320.1,309.2 320.9,295.5 321.7,291.5 322.5,295.2 323.3,302.3 324.1,311.7 324.9,317.3 325.7,321.8 326.5,325.0 327.3,326.1 328.1,329.9 328.9,328.2 329.7,333.0 330.5,334.3 331.3,335.9 332.1,336.2 332.9,337.7 333.7,338.5 334.5,338.4 335.3,341.2 336.1,339.4 336.9,341.4 337.7,339.8 338.5,340.7 339.3,339.1 340.1,341.6 340.9,340.3 341.7,342.3 342.5,340.0 343.3,341.3 344.1,341.1 344.9,342.0 345.7,343.6 346.5,340.8 347.3,339.5 348.1,341.8 348.9,340.0 349.7,339.9 350.5,339.6 351.3,337.6 352.1,336.0 352.9,334.1 353.7,333.4 354.5,334.6 355.3,336.8 356.1,337.8 356.1,343.4 355.3,344.4 354.5,342.7 353.7,342.4 352.9,341.7 352.1,342.4 351.3,345.1 350.5,344.9 349.7,345.0 348.9,346.7 348.1,349.3 347.3,349.2 346.5,347.9 345.7,349.0 344.9,348.9 344.1,347.8 343.3,346.9 342.5,347.0 341.7,347.6 340.9,347.9 340.1,347.9 339.3,347.1 338.5,346.0 337.7,346.4 336.9,349.2 336.1,349.4 335.3,347.0 334.5,347.3 333.7,348.4 332.9,346.4 332.1,344.2 331.3,343.3 330.5,341.1 329.7,339.5 328.9,340.4 328.1,338.3 327.3,336.9 326.5,333.5 325.7,331.7 324.9,327.7 324.1,327.9 323.3,317.7 322.5,310.5 321.7,309.8 320.9,329.1 320.1,333.8 319.3,333.2 318.5,336.6 317.7,328.5 316.9,325.2 316.1,319.2 315.3,312.2 314.5,320.9 313.7,317.5 312.9,335.6 312.1,335.4 311.3,322.4 310.5,337.9 309.7,334.8 308.9,337.3 308.1,321.1 307.3,333.7 306.5,325.9 305.7,318.6 304.9,333.8 304.1,333.2 303.3,318.3 302.5,315.2 301.7,320.7 300.9,321.4 300.1,317.6 299.3,327.8 298.5,324.7 297.7,315.8 296.9,313.0 296.1,328.8 295.3,320.3 294.5,330.5 293.7,316.8 292.9,323.2 292.1,312.1 291.3,309.6 290.5,329.7 289.7,334.8 288.9,344.5 288.1,334.1 287.3,339.3 286.5,335.7 285.7,329.4 284.9,333.4 284.1,328.9 283.3,337.1 282.5,329.4 281.7,326.3 280.9,339.2 280.1,329.2 279.3,332.0 278.5,325.9 277.7,323.4 276.9,332.8 276.1,326.0 275.3,332.4 274.5,333.2 273.7,319.7 272.9,323.1 272.1,310.9 271.3,314.7 270.5,326.6 269.7,328.4 268.9,319.8 268.1,313.2 267.3,315.8 266.5,312.2 265.7,309.0 264.9,317.9 264.1,312.7 263.3,318.8 262.5,307.4 261.7,312.4 260.9,312.0 260.1,314.9 259.3,318.1 258.5,327.4 257.7,318.7 256.9,328.0 256.1,324.1 255.3,320.5 254.5,326.3 253.7,313.5 252.9,309.3 252.1,317.8 251.3,332.3 250.5,341.1 249.7,331.0 248.9,332.2 248.1,325.6 247.3,324.5 246.5,319.9 245.7,326.8 244.9,329.8 244.1,331.2 243.3,321.8 242.5,316.7 241.7,329.1 240.9,323.2 240.1,333.8 239.3,330.6 238.5,327.4 237.7,335.5 236.9,320.5 236.1,324.8 235.3,326.7 234.5,324.8 233.7,332.0 232.9,331.9 232.1,345.1 231.3,336.9 230.5,337.7 229.7,336.4 228.9,334.9 228.1,332.7 227.3,327.7 226.5,326.3 225.7,325.2 224.9,319.7 224.1,324.1 223.3,327.6 222.5,330.6 221.7,338.2 220.9,328.1 220.1,329.2 219.3,324.2 218.5,324.8 217.7,328.4 216.9,341.6 216.1,331.6 215.3,331.6 214.5,322.3 213.7,328.3 212.9,328.8 212.1,321.5 211.3,321.3 210.5,316.8 209.7,321.2 208.9,334.3 208.1,332.2 207.3,331.8 206.5,322.5 205.7,325.6 204.9,330.3 204.1,333.5 203.3,337.9 202.5,331.2 201.7,325.1 200.9,322.9 200.1,329.1 199.3,317.3 198.5,316.0 197.7,323.7 196.9,322.4 196.1,331.5 195.3,331.3 194.5,333.5 193.7,328.1 192.9,326.7 192.1,330.6 191.3,333.3 190.5,338.2 189.7,340.1 188.9,345.5 188.1,339.6 187.3,338.8 186.5,329.7 185.7,332.7 184.9,332.9 184.1,329.0 183.3,326.3 182.5,322.0 181.7,335.7 180.9,341.8 180.1,344.1 179.3,333.4 178.5,327.1 177.7,327.9 176.9,319.4 176.1,316.9 175.3,320.9 174.5,315.4 173.7,314.5 172.9,317.1 172.1,323.6 171.3,327.6 170.5,325.8 169.7,333.5 168.9,329.6 168.1,326.3 167.3,332.5 166.5,331.5 165.7,321.2 164.9,330.4 164.1,330.0 163.3,327.4 162.5,323.6 161.7,320.5 160.9,322.5 160.1,318.5 159.3,317.1 158.5,310.2 157.7,315.2 156.9,316.9 156.1,312.0 155.3,312.6 154.5,312.5 153.7,310.1 152.9,312.0 152.1,320.7 151.3,325.4 150.5,330.2 149.7,331.9 148.9,332.8 148.1,331.0 147.3,329.8 146.5,330.4 145.7,331.3 144.9,325.6 144.1,320.7 143.3,326.1 142.5,323.2 141.7,328.0 140.9,320.2 140.1,324.4 139.3,333.7 138.5,337.8 137.7,338.3 136.9,326.0 136.1,323.2 135.3,331.9 134.5,330.3 133.7,336.2 132.9,335.8 132.1,334.3 131.3,332.0 130.5,334.4 129.7,330.6 128.9,327.2 128.1,322.1 127.3,319.7 126.5,326.0 125.7,322.7 124.9,331.1 124.1,330.0 123.3,332.2 122.5,326.6 121.7,330.6 120.9,329.4 120.1,329.7 119.3,325.5 118.5,323.1 117.7,324.9 116.9,325.7 116.1,326.2 115.3,335.4 114.5,340.2 113.7,342.6 112.9,336.7 112.1,335.5 111.3,331.3 110.5,330.0 109.7,333.2 108.9,339.7 108.1,337.9 107.3,332.9 106.5,332.8 105.7,325.4 104.9,333.0 104.1,330.3 103.3,333.7 102.5,345.0 101.7,348.7 100.9,344.2 100.1,338.0 99.3,331.7 98.5,327.1 97.7,328.7 96.9,329.1 96.1,338.1 95.3,340.8 94.5,342.7 93.7,337.9 92.9,336.4 92.1,343.9 91.3,338.5 90.5,330.4 89.7,335.2 88.9,337.4 88.1,342.2 87.3,334.8 86.5,333.6 85.7,331.3 84.9,336.1 84.1,332.1 83.3,336.2 82.5,330.9 81.7,335.9 80.9,341.4 80.1,342.9 79.3,342.1 78.5,344.0 77.7,337.4 76.9,344.8 76.1,338.4 75.3,334.7 74.5,341.0 73.7,336.0 72.9,339.7 72.1,342.4 71.3,336.2 70.5,331.6Z" fill="#c9c9c9" stroke="none"/><path d="M70.5,367.2 71.3,366.9 72.1,365.8 72.9,366.6 73.7,366.3 74.5,366.8 75.3,366.8 76.1,366.6 76.9,366.5 77.7,365.2 78.5,366.7 79.3,367.5 80.1,367.6 80.9,366.6 81.7,367.5 82.5,367.6 83.3,367.2 84.1,368.6 84.9,368.1 85.7,368.3 86.5,366.9 87.3,367.5 88.1,367.0 88.9,367.5 89.7,367.5 90.5,367.0 91.3,366.3 92.1,367.4 92.9,367.8 93.7,368.5 94.5,367.5 95.3,366.6 96.1,367.7 96.9,367.9 97.7,368.3 98.5,366.5 99.3,367.3 100.1,366.6 100.9,365.7 101.7,365.4 102.5,366.4 103.3,367.7 104.1,367.1 104.9,367.1 105.7,366.9 106.5,367.5 107.3,368.9 108.1,369.4 108.9,369.3 109.7,369.7 110.5,369.4 111.3,368.6 112.1,367.0 112.9,365.8 113.7,365.9 114.5,366.0 115.3,366.0 116.1,366.6 116.9,366.9 117.7,366.7 118.5,366.5 119.3,366.0 120.1,367.1 120.9,367.5 121.7,367.9 122.5,367.4 123.3,366.9 124.1,367.9 124.9,368.7 125.7,369.3 126.5,368.6 127.3,368.3 128.1,367.8 128.9,369.3 129.7,369.6 130.5,368.6 131.3,367.5 132.1,369.4 132.9,369.2 133.7,369.5 134.5,369.2 135.3,368.5 136.1,366.7 136.9,366.5 137.7,366.6 138.5,366.1 139.3,365.6 140.1,363.8 140.9,364.0 141.7,365.8 142.5,365.1 143.3,363.3 144.1,365.0 144.9,363.1 145.7,365.2 146.5,364.9 147.3,363.2 148.1,363.2 148.9,365.2 149.7,363.5 150.5,362.8 151.3,363.0 152.1,361.7 152.9,360.9 153.7,360.6 154.5,359.0 155.3,358.1 156.1,359.0 156.9,360.4 157.7,361.3 158.5,363.1 159.3,363.5 160.1,364.5 160.9,363.2 161.7,362.7 162.5,362.1 163.3,362.2 164.1,364.0 164.9,363.5 165.7,364.6 166.5,364.4 167.3,362.8 168.1,363.8 168.9,364.8 169.7,364.9 170.5,365.1 171.3,363.0 172.1,362.7 172.9,360.3 173.7,360.1 174.5,359.1 175.3,359.0 176.1,358.8 176.9,359.2 177.7,361.7 178.5,359.3 179.3,360.1 180.1,360.6 180.9,362.5 181.7,364.1 182.5,359.3 183.3,359.2 184.1,357.9 184.9,359.6 185.7,355.1 186.5,353.5 187.3,354.9 188.1,352.6 188.9,352.7 189.7,356.5 190.5,355.1 191.3,351.9 192.1,349.1 192.9,346.7 193.7,347.1 194.5,343.2 195.3,343.7 196.1,349.1 196.9,346.6 197.7,339.0 198.5,338.0 199.3,341.8 200.1,337.0 200.9,341.7 201.7,340.5 202.5,336.5 203.3,347.4 204.1,341.4 204.9,345.1 205.7,340.4 206.5,344.3 207.3,352.6 208.1,348.7 208.9,347.1 209.7,353.1 210.5,350.0 211.3,353.9 212.1,353.8 212.9,354.0 213.7,355.2 214.5,349.5 215.3,355.0 216.1,354.2 216.9,353.7 217.7,352.0 218.5,351.0 219.3,355.3 220.1,352.2 220.9,356.8 221.7,354.6 222.5,358.7 223.3,355.1 224.1,356.6 224.9,358.6 225.7,355.8 226.5,359.3 227.3,359.6 228.1,361.5 228.9,356.4 229.7,358.3 230.5,355.0 231.3,359.4 232.1,355.8 232.9,357.2 233.7,356.3 234.5,356.4 235.3,355.3 236.1,354.8 236.9,359.2 237.7,355.1 238.5,358.6 239.3,358.8 240.1,358.1 240.9,358.3 241.7,355.7 242.5,357.1 243.3,357.5 244.1,353.5 244.9,351.9 245.7,354.0 246.5,353.9 247.3,352.5 248.1,357.4 248.9,353.3 249.7,356.9 250.5,357.4 251.3,354.2 252.1,358.8 252.9,358.0 253.7,355.8 254.5,357.1 255.3,355.8 256.1,355.7 256.9,355.9 257.7,353.1 258.5,353.9 259.3,355.0 260.1,351.4 260.9,354.6 261.7,355.9 262.5,350.1 263.3,353.2 264.1,354.7 264.9,353.7 265.7,353.6 266.5,353.9 267.3,353.1 268.1,354.8 268.9,353.9 269.7,350.2 270.5,353.4 271.3,354.2 272.1,353.4 272.9,352.1 273.7,351.7 274.5,348.7 275.3,346.3 276.1,346.5 276.9,348.9 277.7,346.3 278.5,345.7 279.3,346.2 280.1,345.0 280.9,348.2 281.7,344.6 282.5,345.7 283.3,343.7 284.1,342.5 284.9,345.0 285.7,339.4 286.5,343.5 287.3,340.5 288.1,338.5 288.9,336.1 289.7,341.3 290.5,339.1 291.3,341.4 292.1,342.7 292.9,342.1 293.7,340.8 294.5,343.6 295.3,338.7 296.1,344.3 296.9,344.5 297.7,345.1 298.5,346.6 299.3,341.4 300.1,341.2 300.9,342.4 301.7,347.9 302.5,344.5 303.3,348.2 304.1,350.6 304.9,349.5 305.7,352.6 306.5,353.7 307.3,350.3 308.1,354.4 308.9,352.1 309.7,355.5 310.5,357.8 311.3,357.1 312.1,360.2 312.9,362.7 313.7,363.3 314.5,362.9 315.3,364.3 316.1,365.1 316.9,363.9 317.7,365.5 318.5,367.1 319.3,369.2 320.1,368.8 320.9,369.4 321.7,370.2 322.5,370.5 323.3,370.9 324.1,371.6 324.9,372.0 325.7,370.7 326.5,371.9 327.3,371.5 328.1,371.0 328.9,372.3 329.7,373.7 330.5,372.9 331.3,371.1 332.1,373.7 332.9,373.8 333.7,372.6 334.5,372.0 335.3,372.5 336.1,373.0 336.9,373.3 337.7,373.0 338.5,373.1 339.3,373.0 340.1,373.8 340.9,371.9 341.7,373.3 342.5,373.4 343.3,371.7 344.1,373.4 344.9,373.0 345.7,373.5 346.5,371.3 347.3,373.2 348.1,372.4 348.9,371.2 349.7,371.7 350.5,372.1 351.3,372.2 352.1,372.2 352.9,371.0 353.7,371.2 354.5,370.4 355.3,370.8 356.1,370.9 356.1,373.9 355.3,374.0 354.5,374.0 353.7,375.6 352.9,375.6 352.1,375.7 351.3,374.7 350.5,375.8 349.7,374.6 348.9,375.3 348.1,376.0 347.3,375.7 346.5,376.0 345.7,376.0 344.9,376.0 344.1,376.0 343.3,376.0 342.5,376.0 341.7,376.0 340.9,376.0 340.1,376.0 339.3,376.0 338.5,376.0 337.7,376.0 336.9,376.0 336.1,376.0 335.3,376.0 334.5,376.0 333.7,376.0 332.9,376.0 332.1,376.0 331.3,376.0 330.5,376.0 329.7,376.0 328.9,376.0 328.1,376.0 327.3,376.0 326.5,375.8 325.7,376.0 324.9,376.0 324.1,375.8 323.3,375.3 322.5,374.4 321.7,375.8 320.9,374.1 320.1,373.8 319.3,373.6 318.5,372.7 317.7,372.1 316.9,373.5 316.1,373.6 315.3,371.4 314.5,369.7 313.7,369.7 312.9,369.5 312.1,369.1 311.3,368.6 310.5,365.5 309.7,367.7 308.9,366.3 308.1,365.4 307.3,365.0 306.5,365.0 305.7,365.1 304.9,361.2 304.1,359.6 303.3,358.0 302.5,359.1 301.7,359.5 300.9,359.1 300.1,359.2 299.3,356.9 298.5,355.5 297.7,355.6 296.9,354.3 296.1,354.1 295.3,353.1 294.5,353.2 293.7,355.1 292.9,354.4 292.1,352.4 291.3,352.8 290.5,357.1 289.7,355.0 288.9,351.4 288.1,351.6 287.3,357.1 286.5,356.7 285.7,358.1 284.9,354.9 284.1,358.5 283.3,358.6 282.5,361.4 281.7,363.1 280.9,364.0 280.1,361.6 279.3,363.7 278.5,361.9 277.7,363.8 276.9,361.9 276.1,362.7 275.3,363.3 274.5,361.7 273.7,363.2 272.9,361.7 272.1,366.0 271.3,362.7 270.5,362.7 269.7,363.0 268.9,363.9 268.1,364.4 267.3,364.6 266.5,362.8 265.7,365.0 264.9,367.8 264.1,367.9 263.3,365.6 262.5,363.5 261.7,368.8 260.9,364.8 260.1,365.4 259.3,368.5 258.5,364.8 257.7,368.3 256.9,365.5 256.1,365.0 255.3,368.5 254.5,365.4 253.7,368.9 252.9,367.1 252.1,370.0 251.3,366.7 250.5,370.3 249.7,369.0 248.9,368.0 248.1,370.0 247.3,369.3 246.5,364.8 245.7,369.9 244.9,365.0 244.1,369.5 243.3,369.1 242.5,371.4 241.7,371.4 240.9,370.7 240.1,368.3 239.3,367.4 238.5,368.9 237.7,369.4 236.9,368.7 236.1,370.7 235.3,367.9 234.5,369.9 233.7,370.5 232.9,366.9 232.1,370.3 231.3,367.7 230.5,369.6 229.7,369.1 228.9,373.3 228.1,371.1 227.3,370.2 226.5,370.4 225.7,369.3 224.9,370.9 224.1,372.8 223.3,372.5 222.5,368.0 221.7,371.3 220.9,368.0 220.1,368.8 219.3,367.5 218.5,366.5 217.7,365.6 216.9,369.0 216.1,366.4 215.3,367.9 214.5,366.8 213.7,370.6 212.9,370.3 212.1,365.4 211.3,365.0 210.5,369.3 209.7,365.0 208.9,369.3 208.1,369.5 207.3,364.1 206.5,363.4 205.7,363.3 204.9,361.0 204.1,362.0 203.3,359.1 202.5,360.6 201.7,359.3 200.9,357.6 200.1,355.1 199.3,352.9 198.5,357.9 197.7,357.9 196.9,359.6 196.1,360.8 195.3,364.8 194.5,363.1 193.7,361.5 192.9,362.4 192.1,362.2 191.3,366.4 190.5,366.8 189.7,365.6 188.9,368.4 188.1,370.8 187.3,366.2 186.5,365.9 185.7,368.5 184.9,370.4 184.1,369.8 183.3,371.4 182.5,370.6 181.7,371.4 180.9,370.3 180.1,370.2 179.3,369.6 178.5,367.9 177.7,369.1 176.9,369.7 176.1,367.7 175.3,367.2 174.5,366.5 173.7,366.5 172.9,366.4 172.1,367.1 171.3,368.1 170.5,369.5 169.7,370.3 168.9,368.6 168.1,369.8 167.3,368.6 166.5,370.4 165.7,369.4 164.9,369.0 164.1,367.5 163.3,369.8 162.5,369.1 161.7,367.1 160.9,368.2 160.1,367.8 159.3,366.7 158.5,366.4 157.7,367.5 156.9,365.3 156.1,364.8 155.3,363.4 154.5,364.9 153.7,364.8 152.9,365.6 152.1,368.0 151.3,368.4 150.5,368.3 149.7,368.7 148.9,369.6 148.1,370.3 147.3,369.5 146.5,370.3 145.7,368.4 144.9,368.8 144.1,368.7 143.3,370.1 142.5,371.0 141.7,369.1 140.9,368.2 140.1,368.6 139.3,370.6 138.5,371.0 137.7,371.6 136.9,371.8 136.1,372.2 135.3,373.2 134.5,374.0 133.7,373.6 132.9,374.5 132.1,373.3 131.3,373.5 130.5,374.0 129.7,373.4 128.9,372.9 128.1,372.5 127.3,373.0 126.5,373.3 125.7,372.6 124.9,373.2 124.1,373.5 123.3,371.7 122.5,372.2 121.7,372.6 120.9,371.2 120.1,370.2 119.3,370.8 118.5,371.9 117.7,371.5 116.9,370.6 116.1,370.8 115.3,370.2 114.5,369.3 113.7,369.5 112.9,370.9 112.1,372.8 111.3,373.4 110.5,373.9 109.7,374.6 108.9,373.5 108.1,372.7 107.3,373.2 106.5,371.5 105.7,372.0 104.9,372.0 104.1,371.3 103.3,370.4 102.5,371.3 101.7,370.7 100.9,370.3 100.1,369.4 99.3,371.2 98.5,371.5 97.7,371.9 96.9,372.3 96.1,370.2 95.3,371.3 94.5,372.0 93.7,372.5 92.9,371.8 92.1,370.6 91.3,370.3 90.5,370.4 89.7,371.4 88.9,370.9 88.1,371.6 87.3,370.9 86.5,371.8 85.7,370.9 84.9,372.8 84.1,371.5 83.3,372.3 82.5,370.9 81.7,371.1 80.9,370.3 80.1,370.4 79.3,371.7 78.5,371.0 77.7,369.9 76.9,369.1 76.1,369.3 75.3,370.3 74.5,370.7 73.7,370.0 72.9,370.6 72.1,370.3 71.3,369.5 70.5,369.7Z" fill="#c9c9c9" stroke="none"/></g>
<g><line x1="111.1" y1="44.4" x2="111.1" y2="472" stroke="#6a6a6a" stroke-width="1.2" stroke-dasharray="5.1 5.2"/><line x1="213.6" y1="44.4" x2="213.6" y2="472" stroke="#6a6a6a" stroke-width="1.2" stroke-dasharray="5.1 5.2"/><line x1="266.5" y1="44.4" x2="266.5" y2="472" stroke="#6a6a6a" stroke-width="1.2" stroke-dasharray="5.1 5.2"/><line x1="278.7" y1="44.4" x2="278.7" y2="472" stroke="#6a6a6a" stroke-width="1.2" stroke-dasharray="5.1 5.2"/><line x1="323.1" y1="44.4" x2="323.1" y2="472" stroke="#6a6a6a" stroke-width="1.2" stroke-dasharray="5.1 5.2"/></g>
<g><path d="M70.8,88.2 72.2,88.6 73.6,88.1 75.0,86.5 76.0,86.9 77.8,88.1 79.2,86.1 81.0,87.8 82.0,87.9 83.4,86.6 85.0,85.9 86.2,86.3 87.6,87.3 89.0,89.0 90.4,90.4 92.0,92.0 93.2,92.3 94.6,90.8 96.0,89.1 97.4,89.9 98.8,87.6 100.0,87.8 101.6,89.1 103.0,88.4 104.0,89.7 105.8,87.6 107.0,86.0 108.6,83.8 110.0,80.3 111.0,78.0 113.0,81.0 114.2,81.2 116.0,82.7 117.0,82.4 118.4,83.9 119.8,82.9 121.2,83.5 122.0,83.7 122.6,85.3 124.0,84.7 125.4,86.1 127.0,88.2 128.2,86.0 130.0,83.2 131.0,83.0 132.4,82.8 133.8,80.7 135.2,81.4 136.0,81.0 136.6,81.7 138.0,80.0 139.0,80.1 140.8,81.4 142.2,84.2 144.0,86.9 145.0,84.9 146.4,84.8 148.0,81.9 149.2,80.8 151.0,76.1 152.0,73.3 154.0,67.1 154.8,69.0 156.2,70.5 157.0,73.0 157.6,73.1 159.0,75.2 160.4,76.1 162.0,79.3 163.2,79.5 164.6,82.0 166.0,82.5 168.0,85.2 168.8,85.8 170.2,85.2 172.0,87.2 173.0,87.4 174.4,86.2 176.0,84.0 177.2,83.6 178.6,84.3 180.0,86.7 181.0,86.0 182.8,86.3 184.2,88.9 186.0,89.1 187.0,89.0 188.4,88.2 189.8,88.0 191.0,87.8 192.6,87.2 194.0,89.5 196.0,89.0 196.8,88.2 198.2,85.9 199.6,85.3 201.0,82.7 202.4,82.4 203.8,81.3 205.2,81.2 206.0,82.3 206.6,82.0 208.0,80.6 209.4,80.0 211.0,79.2 212.2,77.4 213.0,77.1 213.6,78.7 215.0,80.6 216.0,83.0 217.8,86.1 219.0,87.3 220.6,86.1 222.0,87.3 223.4,87.2 225.0,90.2 226.2,91.0 227.6,89.6 229.0,90.6 230.0,91.2 231.8,89.2 233.2,90.3 234.6,90.2 236.0,89.0 237.4,88.7 238.8,86.6 240.2,85.7 241.0,85.9 241.6,84.6 243.0,83.6 245.0,82.3 245.8,82.0 247.2,81.2 248.6,80.7 250.0,81.3 251.4,80.5 252.8,81.5 254.0,80.0 255.6,81.3 257.0,83.2 258.0,83.2 259.8,81.4 261.2,79.6 262.0,79.2 262.6,77.9 264.0,76.3 265.4,72.7 266.5,72.0 268.2,74.8 269.0,76.3 269.6,76.9 271.0,81.8 273.0,86.1 273.8,85.9 275.2,84.7 277.0,83.3 278.0,82.8 279.4,83.3 281.0,83.8 282.2,84.1 284.0,86.8 285.0,87.8 286.4,87.3 288.0,85.8 289.2,86.0 290.6,85.3 292.0,85.1 293.4,87.1 294.8,88.0 296.0,90.3 297.6,91.1 299.0,92.6 300.0,93.1 301.8,92.2 303.2,91.9 305.0,92.9 306.0,93.5 307.4,93.3 308.8,92.8 310.0,91.8 311.6,92.4 313.0,91.6 315.0,90.2 315.8,89.5 317.2,89.6 318.0,87.7 318.6,85.0 320.0,80.8 321.0,78.8 323.0,75.8 324.2,78.8 325.0,82.0 325.6,83.0 327.0,89.6 328.0,92.8 329.8,95.2 331.0,95.7 332.6,95.2 334.0,96.5 336.0,95.0 336.8,95.9 338.2,95.8 339.6,95.9 341.0,95.1 342.0,96.0 343.8,93.5 345.2,94.4 346.0,93.3 346.6,94.3 348.0,93.4 350.0,95.9 350.8,95.3 352.2,94.3 353.6,95.1 355.0,95.1 356.0,93.9" fill="none" stroke="#ff0000" stroke-width="3.0" stroke-linejoin="round"/><path d="M70.8,134.5 72.2,132.2 73.6,129.9 75.0,128.6 76.0,129.3 77.8,131.0 79.2,131.0 80.0,133.0 80.6,133.6 82.0,134.8 83.4,137.6 85.0,138.3 86.2,137.4 87.6,138.0 89.0,139.1 91.0,140.2 91.8,140.0 93.2,139.7 94.6,138.8 96.0,137.8 97.4,138.4 98.8,135.8 100.2,137.1 102.0,135.8 103.0,135.8 104.4,137.0 105.8,135.6 107.2,134.2 108.6,135.0 110.0,135.1 111.4,133.3 112.8,133.3 114.2,132.1 115.6,133.0 117.0,132.1 118.0,132.0 119.8,131.9 121.2,133.2 122.6,132.3 124.0,134.6 126.0,134.3 126.8,134.2 128.2,134.5 130.0,135.2 131.0,133.9 132.4,134.6 133.8,132.5 135.2,133.0 136.6,131.3 138.0,131.1 139.4,132.1 140.8,129.8 142.2,131.9 144.0,131.0 145.0,128.4 146.4,125.1 148.0,121.6 149.2,116.2 151.0,110.1 152.0,105.6 154.0,102.2 154.8,106.0 156.2,109.4 157.0,109.5 157.6,110.8 159.0,108.7 160.4,113.2 162.0,111.7 163.2,114.4 164.6,115.4 166.0,115.2 168.0,116.0 168.8,116.8 170.2,121.6 172.0,125.8 173.0,124.8 174.4,125.1 176.0,127.3 177.2,128.9 178.6,126.1 180.0,125.9 181.0,127.8 182.8,126.9 184.2,127.4 186.0,129.1 187.0,128.3 188.4,127.7 189.8,126.3 191.0,127.2 192.6,126.4 194.0,127.2 196.0,128.0 196.8,130.5 198.2,129.1 199.0,131.2 199.6,128.2 201.0,126.0 202.0,120.9 203.8,122.8 205.2,125.8 206.0,125.2 206.6,123.1 208.0,123.0 209.4,126.5 211.0,123.5 212.2,123.9 214.0,126.5 215.0,123.4 216.4,123.3 218.0,123.7 219.2,121.7 220.6,122.8 222.0,122.8 223.0,121.8 224.8,125.7 226.0,131.3 227.6,130.0 229.0,126.8 230.0,124.6 231.8,125.2 233.2,125.6 234.6,124.7 236.0,125.4 237.4,123.8 238.8,123.6 240.0,122.6 241.6,122.3 243.0,122.4 245.0,120.3 245.8,119.9 247.2,124.9 248.6,125.3 250.0,125.9 251.4,123.7 253.0,122.3 254.2,119.8 255.6,121.1 257.0,120.6 258.0,119.0 259.8,120.7 261.2,118.9 262.0,119.0 262.6,118.4 264.0,122.4 266.0,121.8 266.8,122.6 268.2,120.9 269.0,121.5 269.6,124.4 271.0,123.6 272.0,128.5 273.8,130.9 275.0,131.5 276.6,130.4 278.0,128.5 279.4,127.8 281.0,125.7 282.2,126.6 283.6,127.8 285.0,130.1 286.4,130.8 287.8,130.7 289.2,127.6 290.0,128.1 290.6,126.2 292.0,128.5 294.0,130.5 294.8,128.1 296.2,130.7 297.6,129.2 299.0,127.8 300.4,129.7 301.8,128.2 303.2,131.3 304.0,129.6 304.6,128.1 306.0,130.0 307.4,128.1 308.8,126.2 310.0,127.0 311.6,126.8 313.0,128.4 315.0,129.2 315.8,131.3 317.2,130.2 319.0,134.1 320.0,136.0 321.4,135.1 323.0,136.2 324.2,135.4 325.6,138.1 327.0,137.8 328.0,138.3 329.8,139.4 331.2,140.1 332.6,138.3 334.0,140.1 335.4,138.9 336.8,138.9 338.2,138.8 340.0,139.1 341.0,139.7 342.4,141.0 343.8,139.0 345.2,139.9 346.0,140.9 346.6,142.0 348.0,141.5 349.4,141.7 351.0,142.2 352.2,141.7 353.6,139.9 355.0,138.5 356.0,139.0" fill="none" stroke="#a80000" stroke-width="2.9" stroke-linejoin="round"/><path d="M70.8,216.7 71.6,219.4 72.6,225.2 74.2,220.1 75.2,219.4 76.2,224.2 77.3,229.0 78.8,224.0 80.4,226.3 81.9,229.8 83.0,225.8 84.5,230.9 86.1,226.3 87.6,230.4 89.2,227.9 90.8,233.1 92.3,235.1 93.2,232.3 93.9,233.0 94.6,230.9 95.4,229.2 96.0,231.4 97.0,231.6 98.5,234.3 100.1,230.9 101.7,227.9 103.2,233.4 104.8,237.4 106.3,220.9 107.4,214.4 108.9,217.7 110.5,207.1 112.0,210.2 112.8,215.7 113.6,221.0 114.6,224.5 116.2,213.9 117.2,208.3 118.8,218.5 120.3,224.1 121.2,223.9 121.9,221.9 122.6,224.8 124.2,226.1 125.4,231.3 126.4,235.4 128.0,233.4 129.6,227.6 131.3,225.5 132.9,226.4 133.8,221.2 134.5,216.7 135.2,217.3 136.2,214.8 138.4,196.1 140.0,207.2 141.1,215.1 142.2,225.7 143.8,223.2 145.5,227.7 146.4,221.8 147.1,218.8 147.8,221.5 148.7,221.7 150.4,218.6 152.0,217.7 153.4,210.7 154.2,204.4 154.8,209.1 155.8,213.2 157.5,220.8 159.6,225.5 160.4,229.6 161.3,233.4 162.9,232.3 164.5,226.8 166.2,235.4 167.8,236.4 168.9,231.8 170.5,236.6 172.2,231.2 173.0,228.6 173.8,226.9 174.4,224.3 175.5,224.0 177.2,219.7 178.0,215.8 178.6,219.5 180.0,226.7 181.0,231.7 182.8,231.8 184.0,230.2 186.0,233.7 187.0,231.7 189.0,230.3 189.8,231.1 191.2,230.0 192.0,228.0 192.6,225.1 194.0,219.8 195.0,215.7 196.8,213.6 198.0,211.7 199.6,205.9 201.0,202.5 202.0,199.6 203.8,209.5 205.0,216.2 206.6,212.3 208.0,208.5 209.4,207.7 211.0,204.1 212.2,206.5 213.6,205.7 215.0,207.3 216.4,211.2 218.0,218.0 219.2,218.8 220.6,215.8 222.0,214.0 223.4,219.0 225.0,221.8 226.2,222.6 228.0,219.5 229.0,220.2 231.0,223.6 231.8,221.1 233.2,221.1 235.0,214.5 236.0,217.1 237.0,221.1 238.8,211.6 240.2,203.9 241.0,197.9 241.6,196.1 243.0,197.7 244.0,194.6 245.8,190.0 247.0,189.7 249.0,195.0 250.0,194.1 251.0,189.3 253.0,197.1 254.2,199.3 255.6,202.6 257.0,204.8 258.0,205.8 259.8,196.9 261.0,193.7 262.6,185.7 264.0,176.2 265.2,163.3 266.2,154.5 267.2,160.5 268.0,166.9 270.0,171.5 271.0,177.9 272.0,184.1 273.8,192.7 275.0,196.1 276.6,194.7 278.0,191.6 279.4,196.2 281.0,199.8 282.2,200.5 284.0,205.6 285.0,208.6 287.0,213.7 287.8,213.5 289.0,209.6 290.6,206.4 292.0,207.5 293.4,211.4 295.0,218.0 296.2,218.5 298.0,221.7 299.0,224.7 301.0,231.2 301.8,229.8 303.2,232.8 304.0,232.4 304.6,231.9 306.0,230.6 308.0,229.8 308.8,228.8 310.2,228.9 312.0,229.3 313.0,226.2 314.4,226.9 316.0,224.1 317.2,220.1 319.0,217.7 320.0,213.8 322.0,203.1 322.8,202.8 324.0,204.3 326.0,213.8 327.0,221.8 329.0,237.7 329.8,238.2 331.2,236.5 332.6,236.4 334.0,237.2 335.4,236.8 336.8,237.0 338.2,236.9 340.0,236.1 341.0,235.2 342.4,236.5 343.8,235.0 345.2,235.4 346.0,236.0 346.6,235.0 348.0,235.0 349.4,236.4 351.0,236.2 352.2,235.4 353.6,235.2 355.0,234.4 356.0,235.0" fill="none" stroke="#008a00" stroke-width="3.0" stroke-linejoin="round"/><path d="M70.8,245.7 72.2,242.8 73.0,240.2 73.6,240.6 75.0,239.3 76.0,237.7 77.8,239.6 79.0,242.0 80.6,244.1 82.0,243.8 83.4,245.9 85.0,247.9 86.2,247.8 87.6,247.5 89.0,247.9 90.4,250.7 92.0,254.8 93.2,253.5 95.0,251.0 96.0,252.2 97.4,253.1 99.0,254.2 100.2,253.1 101.6,253.5 103.0,251.9 104.4,250.6 105.8,249.2 107.0,246.9 108.6,250.1 110.0,253.1 111.4,251.1 112.8,251.0 114.0,249.8 115.6,248.6 117.0,248.8 118.0,248.3 119.8,250.5 121.2,250.0 123.0,251.8 124.0,252.5 125.4,253.1 127.0,253.9 128.2,253.9 129.6,252.9 131.0,251.7 132.0,251.1 133.8,250.0 135.2,249.2 136.6,248.9 138.0,247.2 139.4,250.4 141.0,252.2 142.2,249.7 143.6,248.8 145.0,247.8 146.0,245.9 147.8,243.2 149.8,239.3 150.6,236.9 152.0,233.8 153.4,229.7 154.2,228.6 154.8,231.7 155.8,238.7 158.0,238.4 159.0,238.9 160.4,240.7 161.3,240.6 163.2,240.3 164.5,241.5 166.2,244.6 167.4,246.2 168.8,249.1 170.0,252.1 171.6,252.8 173.0,253.0 174.0,254.0 176.0,256.1 177.2,254.9 178.6,255.3 180.0,255.3 181.4,256.4 182.8,254.6 184.2,255.1 185.6,254.7 187.0,255.6 188.4,255.8 190.0,254.8 191.2,255.6 192.6,255.2 194.0,254.0 195.4,255.3 196.8,253.9 198.2,254.8 200.0,253.8 201.0,254.1 202.4,254.5 203.8,255.6 205.2,255.7 206.6,255.4 208.0,254.7 210.0,256.0 210.8,255.7 212.2,256.8 213.6,256.0 215.0,255.3 216.4,255.1 217.8,255.8 219.2,254.2 220.0,255.2 220.6,255.4 222.0,255.1 223.4,255.8 224.8,255.3 226.2,254.9 227.6,255.6 229.0,255.0 230.0,255.8 231.8,255.7 233.2,256.4 234.6,254.9 236.0,255.4 237.4,256.3 238.8,255.8 240.0,255.2 241.6,255.2 243.0,254.9 244.4,254.7 245.8,254.6 247.2,254.2 248.6,253.9 250.0,253.9 251.4,253.2 252.8,254.0 254.2,255.0 255.6,254.7 257.0,254.0 258.4,255.5 260.0,254.8 261.2,255.9 262.6,255.3 264.0,255.1 265.4,254.8 266.8,255.7 268.2,254.0 270.0,254.8 271.0,254.9 272.4,254.3 273.8,254.4 275.2,254.6 276.6,253.4 278.0,255.2 280.0,254.1 280.8,253.3 282.2,254.9 283.6,254.8 285.0,255.4 286.4,255.8 287.8,256.6 289.2,255.1 290.0,256.3 290.6,255.9 292.0,255.2 293.4,255.4 294.8,255.2 296.2,256.2 297.6,255.3 299.0,254.2 300.0,255.1 301.8,255.2 303.2,256.0 304.6,254.5 306.0,256.3 307.4,256.5 308.8,254.9 310.0,256.0 311.6,255.2 313.0,256.1 314.4,255.2 315.8,256.8 317.2,255.4 318.6,256.3 320.0,256.1 321.4,255.6 322.8,255.4 324.2,256.8 325.6,255.1 327.0,255.5 328.4,255.7 330.0,256.0 331.2,255.7 332.6,255.2 334.0,256.1 335.4,256.5 336.8,256.4 338.2,256.0 340.0,255.9 341.0,255.0 342.4,255.9 343.8,256.0 345.2,255.6 346.6,256.5 348.0,254.9 349.4,256.0 350.8,255.8 352.2,256.0 353.6,256.0 355.0,254.5 356.0,255.2" fill="none" stroke="#0c5a38" stroke-width="2.9" stroke-linejoin="round"/><path d="M71.0,320.8 72.1,331.5 73.6,329.6 75.2,326.9 76.7,332.0 78.3,329.3 79.2,334.8 80.4,337.2 81.9,321.7 83.5,323.8 85.0,323.7 86.6,326.2 88.2,330.9 89.0,328.0 90.2,321.7 91.8,329.2 93.3,330.3 94.9,329.3 96.5,323.5 98.0,317.5 98.8,322.5 99.6,323.2 100.2,328.8 101.1,339.0 102.2,340.7 103.2,327.6 104.8,321.0 106.3,318.0 107.2,319.0 107.9,321.9 108.6,326.7 109.4,328.5 110.0,325.3 111.0,321.4 112.5,331.0 114.1,328.0 115.7,321.7 117.2,310.3 118.8,316.1 120.3,323.9 121.2,319.0 121.9,317.0 122.6,320.5 123.6,324.3 125.1,316.3 126.7,314.6 127.7,309.5 129.3,315.8 130.8,322.5 132.4,327.4 133.4,330.5 135.0,320.3 136.5,315.3 138.1,329.1 139.1,319.7 140.7,313.4 142.2,315.9 143.8,312.4 145.3,321.5 146.9,317.8 147.8,321.5 148.5,320.0 149.2,323.6 150.0,325.7 150.6,323.1 151.6,314.3 153.1,302.7 154.7,303.2 156.2,304.2 157.8,300.2 159.4,307.9 160.9,314.0 161.8,313.9 162.5,316.8 163.2,320.5 164.0,323.3 164.6,321.2 165.6,314.1 167.1,319.6 168.7,317.5 170.3,319.2 171.8,315.9 173.4,305.5 174.9,309.7 175.8,309.2 176.6,309.7 177.2,310.4 178.1,315.1 179.7,328.1 181.2,331.2 182.8,310.0 183.8,318.7 185.4,323.2 186.9,322.1 188.5,328.2 190.0,331.7 191.6,324.0 193.2,315.6 194.0,322.2 194.7,325.4 195.4,321.4 196.3,314.1 197.8,307.8 199.4,308.6 200.9,315.0 202.5,319.2 203.5,330.5 204.6,319.6 205.2,314.5 206.1,310.6 207.7,322.2 209.2,316.5 210.8,305.2 212.4,315.2 213.4,308.7 215.0,313.2 216.5,324.9 218.1,316.8 219.6,315.3 221.2,320.6 222.0,317.4 222.7,315.6 223.4,313.6 224.3,308.5 225.9,306.6 227.4,316.2 228.5,325.5 230.1,325.4 231.6,328.4 233.2,319.7 234.7,315.1 236.3,308.5 237.9,315.7 239.4,320.0 240.2,316.3 241.0,310.7 241.6,310.2 242.5,305.9 244.1,314.6 245.6,306.8 247.2,309.7 248.8,315.0 250.3,323.5 251.9,309.8 252.9,297.3 254.5,305.2 256.0,308.1 257.6,305.6 258.4,305.6 259.1,306.2 259.8,306.0 260.7,303.5 261.7,294.8 262.6,294.2 263.3,298.8 264.0,296.9 264.8,301.1 265.4,296.3 266.4,295.9 268.0,299.4 269.5,308.8 271.1,301.3 272.6,299.2 274.2,305.4 275.7,310.9 276.6,308.5 277.3,304.8 278.0,302.0 278.9,301.6 280.4,308.3 282.0,306.4 283.0,313.2 283.6,309.9 285.0,304.8 286.0,305.6 287.8,308.8 289.0,310.9 291.0,293.2 292.0,296.7 294.0,297.2 294.8,298.7 296.0,300.6 298.0,288.0 299.0,295.5 301.0,299.1 301.8,296.8 303.0,294.8 305.0,302.1 306.0,298.6 308.0,300.6 308.8,306.4 310.2,304.5 311.0,310.1 311.6,305.5 313.0,305.1 314.4,300.1 316.0,300.1 317.2,307.6 318.0,310.2 318.6,318.0 320.0,326.7 322.0,299.1 322.8,306.4 324.0,318.8 325.6,325.1 327.0,330.6 328.4,333.6 330.0,336.8 331.2,338.6 332.6,340.5 334.0,343.9 335.4,344.3 336.8,344.8 338.0,342.8 339.6,344.9 341.0,344.9 342.0,344.7 343.8,344.0 345.2,347.0 346.0,345.8 346.6,344.2 348.0,344.5 350.0,342.2 350.8,342.1 352.2,339.1 353.0,337.9 353.6,338.1 355.0,339.1 356.0,341.1" fill="none" stroke="#1040ff" stroke-width="3.0" stroke-linejoin="round"/><path d="M70.8,368.5 72.2,367.7 73.6,368.4 75.0,368.4 76.0,367.9 77.8,367.7 79.2,369.0 80.6,368.9 82.0,369.8 83.4,369.5 84.8,370.4 86.2,369.0 88.0,369.1 89.0,368.9 90.4,369.2 91.8,368.9 93.2,369.2 94.0,370.1 94.6,369.7 96.0,368.9 97.4,369.9 98.8,369.2 100.0,367.9 101.6,368.4 103.0,369.1 104.4,368.8 106.0,370.0 107.2,370.2 108.6,371.9 110.0,371.8 111.4,371.6 112.8,368.6 114.0,367.9 115.6,367.4 117.0,369.4 118.4,369.4 120.0,368.8 121.2,369.5 122.6,369.6 124.0,370.6 126.0,370.9 126.8,372.0 128.2,370.4 129.6,371.7 131.0,370.5 132.4,371.3 134.0,371.0 135.2,370.3 136.6,369.3 138.0,368.6 140.0,366.8 140.8,366.1 142.2,368.0 143.6,366.5 145.0,366.7 146.0,366.9 147.8,366.7 149.2,367.0 150.6,365.3 152.0,364.9 153.4,362.8 155.0,360.7 156.2,361.7 158.0,364.8 159.0,364.8 160.4,366.5 161.8,364.8 163.2,366.0 164.0,365.8 164.6,365.2 166.0,367.4 167.4,366.3 168.8,366.8 170.0,368.2 171.6,365.4 173.0,363.5 174.0,363.3 176.0,362.8 177.2,364.6 179.0,364.9 180.0,366.2 182.0,367.9 182.8,366.6 184.2,366.5 186.0,363.3 187.0,361.8 188.4,363.1 190.0,361.7 191.2,359.8 192.6,357.3 194.0,357.1 195.4,356.9 197.0,355.2 198.2,352.4 199.0,348.9 199.6,348.4 201.0,349.2 202.0,351.9 203.8,355.8 205.2,355.8 206.0,357.1 206.6,359.0 208.0,359.9 209.4,360.6 211.0,361.1 212.2,360.1 213.6,361.8 215.0,360.7 216.0,361.2 217.8,360.7 219.2,363.5 220.6,361.5 222.0,363.2 223.4,364.9 224.8,363.3 226.2,366.2 228.0,366.1 229.0,365.8 230.4,364.0 231.8,363.6 233.2,362.6 234.0,363.0 234.6,363.5 236.0,363.7 237.4,363.6 238.8,362.5 240.0,362.9 241.6,363.3 243.0,363.4 244.4,360.7 246.0,360.9 247.2,360.7 248.6,363.3 250.0,360.9 252.0,363.3 252.8,363.4 254.2,361.4 255.6,361.8 257.0,360.1 258.0,360.1 259.8,359.5 261.2,360.7 262.6,359.1 264.0,359.2 265.4,359.0 266.8,358.1 268.2,359.7 270.0,357.8 271.0,358.8 272.4,358.3 274.0,356.3 275.2,356.1 276.6,355.7 278.0,355.3 279.4,354.1 280.8,354.7 282.0,353.2 283.6,352.6 285.0,349.8 286.0,349.1 287.8,346.7 289.2,346.0 290.0,346.7 290.6,348.1 292.0,347.5 294.0,349.3 294.8,348.0 296.2,349.0 298.0,351.3 299.0,351.2 300.4,351.3 302.0,353.2 303.2,353.4 304.6,357.0 306.0,356.8 307.4,359.5 308.8,359.7 310.0,361.3 311.6,362.6 313.0,366.3 314.0,366.4 315.8,367.9 317.2,369.6 318.0,370.0 318.6,370.8 320.0,371.9 322.0,372.9 322.8,372.1 324.2,374.0 325.6,374.0 327.0,374.2 328.0,374.3 329.8,375.4 331.2,374.2 332.6,375.7 334.0,374.8 335.4,375.4 336.8,375.9 338.2,374.3 339.6,375.6 341.0,374.5 342.0,374.8 343.8,374.7 345.2,375.1 346.6,374.2 348.0,374.7 349.4,373.1 350.8,373.3 352.0,373.4 353.6,373.0 355.0,372.7 356.0,372.8" fill="none" stroke="#0a0a9c" stroke-width="2.9" stroke-linejoin="round"/><path d="M70.8,468.0 72.2,469.0 74.0,469.0 75.0,468.3 76.4,467.8 78.0,467.7 79.2,468.3 81.0,468.9 82.0,468.1 84.0,465.9 84.8,464.5 86.2,461.9 87.0,461.1 87.6,461.6 89.0,463.0 91.0,468.9 91.8,468.7 93.2,468.7 94.6,468.5 96.0,468.1 97.4,467.4 98.8,467.0 100.0,467.0 101.6,466.0 103.0,465.8 104.0,465.0 105.8,463.5 107.2,462.6 108.0,462.0 108.6,458.9 110.0,451.9 112.0,451.1 112.8,454.6 114.0,461.1 115.6,461.5 117.0,462.3 118.0,463.0 119.8,463.9 121.2,463.7 122.0,464.0 122.6,464.1 124.0,464.1 126.0,464.9 126.8,465.6 128.2,466.0 130.0,465.9 131.0,465.9 132.4,464.3 134.0,464.1 135.2,462.3 137.0,461.0 138.0,461.2 139.4,461.5 141.0,462.1 142.2,462.3 144.0,462.9 145.0,464.3 147.0,468.1 147.8,467.8 149.2,468.0 150.6,468.4 152.0,469.1 153.4,468.2 154.8,467.2 156.0,467.0 157.6,467.4 159.0,468.1 160.0,468.5 161.8,468.7 163.2,468.5 164.6,469.1 166.0,468.6 167.4,468.8 168.8,469.5 170.0,469.5 171.6,468.7 173.0,467.5 174.0,467.0 176.0,467.9 177.2,465.7 179.0,463.1 180.0,462.0 181.4,461.0 183.0,459.0 184.2,460.3 186.0,462.1 187.0,463.0 188.4,464.6 189.8,465.8 191.0,467.0 192.6,465.3 194.0,462.8 195.0,462.1 196.8,460.2 198.2,458.3 199.0,457.0 199.6,456.6 201.0,455.9 203.0,455.0 203.8,452.9 205.2,450.3 207.0,446.1 208.0,443.5 209.4,440.4 211.0,435.9 212.2,431.7 213.6,426.1 215.0,434.3 216.0,440.1 217.8,448.6 219.0,454.0 220.6,455.0 222.0,455.9 223.4,453.8 225.0,452.1 226.2,453.5 227.6,456.1 229.0,457.9 230.4,457.3 232.0,456.1 233.2,449.7 235.0,439.9 236.0,438.6 238.0,435.0 238.8,436.4 240.2,437.4 242.0,439.9 243.0,440.9 244.4,441.5 246.0,442.1 247.2,439.7 248.6,437.1 249.6,435.1 251.4,437.3 253.0,438.9 254.2,439.6 255.6,440.5 257.0,441.9 258.4,439.1 259.8,437.0 261.0,435.0 262.6,432.2 264.0,429.0 265.6,422.9 266.8,427.6 267.6,430.1 268.2,433.5 270.0,441.9 271.0,441.4 273.0,440.0 273.8,438.7 275.2,436.0 276.0,435.1 276.6,434.3 278.4,431.9 279.4,434.2 281.0,438.1 282.2,439.3 284.0,442.1 285.0,440.7 286.0,440.0 287.8,442.0 289.2,443.6 290.0,445.1 290.6,445.3 292.0,446.8 294.0,448.1 294.8,448.2 296.2,448.6 298.0,450.0 299.0,450.4 301.0,452.1 301.8,449.5 303.2,446.4 304.0,443.9 304.6,445.6 306.0,449.9 307.4,453.2 309.0,456.0 310.2,453.8 312.0,449.9 313.0,448.8 315.0,447.1 315.8,446.7 317.0,446.1 318.0,436.0 319.0,423.9 320.0,410.1 321.0,397.9 322.0,388.9 323.0,385.0 324.0,387.4 325.0,397.1 326.0,408.1 327.0,420.0 328.0,433.0 329.0,446.0 330.0,453.9 331.0,459.9 332.6,462.0 334.0,463.9 335.4,464.4 336.8,465.3 338.0,466.0 339.6,466.8 341.0,467.2 342.0,468.1 343.8,468.3 345.2,468.2 346.0,468.0 346.6,467.7 348.0,468.1 350.0,467.6 350.8,467.4 352.2,468.1 353.6,468.2 355.0,468.3 356.0,468.4" fill="none" stroke="#000000" stroke-width="2.2" stroke-linejoin="round"/></g>
<!-- frame -->
<rect x="70.2" y="43.8" width="286.5" height="428.1" fill="none" stroke="#000" stroke-width="2"/>
<line x1="70" y1="146.4" x2="357" y2="146.4" stroke="#000" stroke-width="1.6"/>
<line x1="70" y1="261" x2="357" y2="261" stroke="#000" stroke-width="1.6"/>
<line x1="70" y1="377.2" x2="357" y2="377.2" stroke="#000" stroke-width="1.6"/>
<g><line x1="76.2" y1="472" x2="76.2" y2="476.5" stroke="#000" stroke-width="1.6"/><line x1="107.4" y1="472" x2="107.4" y2="480" stroke="#000" stroke-width="1.6"/><line x1="138.6" y1="472" x2="138.6" y2="476.5" stroke="#000" stroke-width="1.6"/><line x1="169.8" y1="472" x2="169.8" y2="480" stroke="#000" stroke-width="1.6"/><line x1="200.9" y1="472" x2="200.9" y2="476.5" stroke="#000" stroke-width="1.6"/><line x1="232.1" y1="472" x2="232.1" y2="480" stroke="#000" stroke-width="1.6"/><line x1="263.3" y1="472" x2="263.3" y2="476.5" stroke="#000" stroke-width="1.6"/><line x1="294.5" y1="472" x2="294.5" y2="480" stroke="#000" stroke-width="1.6"/><line x1="325.6" y1="472" x2="325.6" y2="476.5" stroke="#000" stroke-width="1.6"/><line x1="356.8" y1="472" x2="356.8" y2="480" stroke="#000" stroke-width="1.6"/></g>
<!-- tick labels -->
<g font-size="18" text-anchor="middle">
<text x="107.4" y="501.5">750</text>
<text x="169.8" y="501.5">1000</text>
<text x="232.2" y="501.5">1250</text>
<text x="294.5" y="501.5">1500</text>
<text x="356.8" y="501.5">1750</text>
</g>
<text x="119.6" y="538.6" font-size="23.6" textLength="173.8" lengthAdjust="spacingAndGlyphs">Wavenumber, cm</text><text x="293.8" y="528.8" font-size="14.2" textLength="11.6" lengthAdjust="spacingAndGlyphs">-1</text>
<text transform="translate(36.2,327) rotate(-90)" font-size="22.5" textLength="157" lengthAdjust="spacingAndGlyphs">Raman intensity</text>
<!-- peak labels -->
<g font-size="11.8" font-weight="bold" stroke="#000" stroke-width="0.4">
<text transform="translate(114.3,39.0) rotate(-90)">765</text>
<text transform="translate(218.3,38.1) rotate(-90)">1176</text>
<text transform="translate(271.5,38.1) rotate(-90)">1388</text>
<text transform="translate(281,38.1) rotate(-90)">1437</text>
<text transform="translate(327.6,38.1) rotate(-90)">1615</text>
</g>
<!-- scale bars -->
<g stroke="#000" stroke-width="1.6">
<path d="M122.4,46.6V64.2M120,46.6H124.8M120,64.2H124.8"/>
<path d="M122.4,159.3V176.8M120,159.3H124.8M120,176.8H124.8"/>
<path d="M122.4,270.9V288.3M120,270.9H124.8M120,288.3H124.8"/>
<path d="M122.4,404.3V421.8M120,404.3H124.8M120,421.8H124.8"/>
</g>
<g font-weight="bold" stroke="#000" stroke-width="0.25">
<text x="126.5" y="61.1" font-size="13.8">25</text><text x="144.2" y="61.1" font-size="12">arb.u.</text>
<text x="126.5" y="173.6" font-size="13.8">25</text><text x="144.2" y="173.6" font-size="12">arb.u.</text>
<text x="126.5" y="284.5" font-size="13.8">25</text><text x="144.2" y="284.5" font-size="12">arb.u.</text>
<text x="126.5" y="418.4" font-size="13.8">50</text><text x="144.2" y="418.4" font-size="12">arb.u.</text>
<text x="335.6" y="370.4" font-size="14.2">÷5</text>
</g>
<!-- right labels -->
<g font-weight="bold" font-size="12" stroke="#000" stroke-width="0.25">
<text x="359.6" y="101.5" textLength="49.2" lengthAdjust="spacingAndGlyphs">Au/PSi-1</text>
<text x="359.6" y="142.7" textLength="123.3" lengthAdjust="spacingAndGlyphs">Au/PSi-1 background</text>
<text x="359.6" y="237.7" textLength="49.6" lengthAdjust="spacingAndGlyphs">Au/PSi-2</text>
<text x="359.6" y="264.1" textLength="123.3" lengthAdjust="spacingAndGlyphs">Au/PSi-2 background</text>
<text x="359.6" y="347.7" textLength="49.6" lengthAdjust="spacingAndGlyphs">Au/PSi-3</text>
<text x="359.6" y="377.3" textLength="123.3" lengthAdjust="spacingAndGlyphs">Au/PSi-3 background</text>
<text x="358.6" y="470.5" font-size="12.1">Raman spectrum of powder</text>
</g>
<!-- molecule -->
<text x="388.8" y="37.6" font-size="14" textLength="103.5" lengthAdjust="spacingAndGlyphs">Methylene blue</text>
<g stroke="#8c8c8c" stroke-width="1.05" fill="none" stroke-linecap="round"><line x1="414.90" y1="43.15" x2="427.59" y2="50.47"/><line x1="427.59" y1="50.47" x2="427.59" y2="65.12"/><line x1="427.59" y1="65.12" x2="414.90" y2="72.45"/><line x1="414.90" y1="72.45" x2="402.21" y2="65.12"/><line x1="402.21" y1="65.12" x2="402.21" y2="50.47"/><line x1="402.21" y1="50.47" x2="414.90" y2="43.15"/><line x1="405.59" y1="51.64" x2="414.22" y2="46.66"/><line x1="424.89" y1="52.82" x2="424.89" y2="62.78"/><line x1="414.22" y1="68.94" x2="405.59" y2="63.96"/><line x1="427.59" y1="50.47" x2="436.10" y2="45.57"/><line x1="444.11" y1="45.35" x2="452.99" y2="50.47"/><line x1="444.29" y1="48.46" x2="451.22" y2="52.45"/><line x1="427.59" y1="65.12" x2="435.72" y2="69.81"/><line x1="444.87" y1="69.81" x2="452.99" y2="65.12"/><line x1="465.40" y1="43.15" x2="478.09" y2="50.47"/><line x1="478.09" y1="50.47" x2="478.09" y2="65.12"/><line x1="478.09" y1="65.12" x2="465.40" y2="72.45"/><line x1="465.40" y1="72.45" x2="452.71" y2="65.12"/><line x1="452.71" y1="50.47" x2="465.40" y2="43.15"/><line x1="452.99" y1="50.47" x2="452.99" y2="65.12"/><line x1="466.08" y1="46.66" x2="474.71" y2="51.64"/><line x1="464.72" y1="68.94" x2="456.09" y2="63.96"/><line x1="478.09" y1="65.12" x2="485.58" y2="69.58"/><line x1="476.86" y1="67.19" x2="484.35" y2="71.64"/><line x1="495.40" y1="69.40" x2="499.60" y2="66.60"/><line x1="491.20" y1="77.80" x2="491.20" y2="81.40"/><line x1="380.90" y1="67.40" x2="384.80" y2="69.60"/><line x1="394.50" y1="68.90" x2="402.21" y2="65.12"/><line x1="389.60" y1="77.40" x2="389.60" y2="81.00"/></g><g fill="#222" font-size="8.6" style="font-family:'DejaVu Sans',sans-serif" stroke="#222" stroke-width="0.12">
<text x="437.4" y="46.8" font-size="7.8">N</text>
<text x="437.2" y="75.8" font-size="9">S</text>
<text x="488.0" y="75.8">N</text>
<text x="489.8" y="67.4" font-size="5.5">•</text>
<text x="500.6" y="69.4">CH<tspan font-size="6.5" dy="1.8">3</tspan></text>
<text x="488.6" y="90.2">CH<tspan font-size="6.5" dy="1.8">3</tspan></text>
<text x="467.0" y="90.2">Cl<tspan font-size="6.5" dy="-3.6">-</tspan></text>
<text x="362.6" y="68.2">H<tspan font-size="6.5" dy="1.8">3</tspan><tspan dy="-1.8">C</tspan></text>
<text x="386.5" y="74.9">N</text>
<text x="386.4" y="89.1">CH<tspan font-size="6.5" dy="1.8">3</tspan></text>
</g>
</svg>
</body></html>
